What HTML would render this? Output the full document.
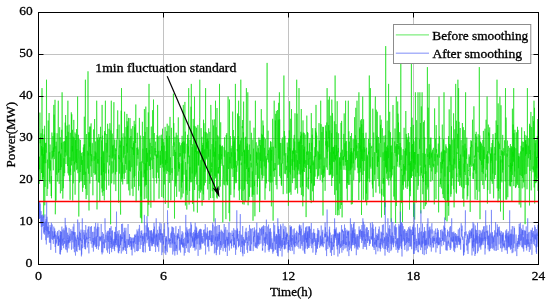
<!DOCTYPE html>
<html><head><meta charset="utf-8"><style>
html,body{margin:0;padding:0;background:#fff;overflow:hidden;}
svg{display:block;}
text{font-family:"Liberation Serif", "DejaVu Serif", serif;font-size:12px;fill:#000;stroke:#000;stroke-width:0.3px;}
text.d{font-size:13.4px;stroke-width:0.3px;}
</style></head><body>
<svg width="550" height="304" viewBox="0 0 550 304">
<rect width="550" height="304" fill="#fff"/>
<g stroke="#c2c2c2" stroke-width="1"><line x1="163.5" y1="12.5" x2="163.5" y2="264.5"/><line x1="288.5" y1="12.5" x2="288.5" y2="264.5"/><line x1="413.5" y1="12.5" x2="413.5" y2="264.5"/><line x1="38.5" y1="222.5" x2="538.5" y2="222.5"/><line x1="38.5" y1="180.5" x2="538.5" y2="180.5"/><line x1="38.5" y1="138.5" x2="538.5" y2="138.5"/><line x1="38.5" y1="96.5" x2="538.5" y2="96.5"/><line x1="38.5" y1="54.5" x2="538.5" y2="54.5"/></g>
<polyline points="38.5,102.6 38.7,171.5 38.8,164.7 39.0,165.9 39.2,183.9 39.4,160.9 39.5,156.7 39.7,169.2 39.9,112.6 40.1,127.5 40.2,143.3 40.4,137.0 40.6,153.0 40.8,180.3 40.9,136.0 41.1,133.3 41.3,148.0 41.5,173.0 41.6,146.0 41.8,155.2 42.0,88.1 42.1,155.7 42.3,149.0 42.5,179.9 42.7,128.9 42.8,179.0 43.0,147.3 43.2,177.0 43.4,154.2 43.5,163.7 43.7,217.5 43.9,139.0 44.1,163.4 44.2,134.4 44.4,159.1 44.6,125.8 44.8,205.3 44.9,150.0 45.1,186.9 45.3,150.6 45.4,143.1 45.6,148.1 45.8,163.2 46.0,142.7 46.1,144.5 46.3,152.7 46.5,79.7 46.7,149.7 46.8,151.0 47.0,196.0 47.2,178.0 47.4,162.6 47.5,159.6 47.7,188.8 47.9,167.3 48.1,142.4 48.2,120.5 48.4,137.4 48.6,147.1 48.7,165.1 48.9,168.5 49.1,113.0 49.3,178.7 49.4,181.6 49.6,154.5 49.8,152.3 50.0,183.7 50.1,144.5 50.3,159.2 50.5,170.5 50.7,160.3 50.8,171.1 51.0,175.1 51.2,196.0 51.4,176.1 51.5,198.3 51.7,153.5 51.9,132.5 52.0,159.3 52.2,150.8 52.4,157.6 52.6,155.0 52.7,154.1 52.9,136.1 53.1,159.7 53.3,170.3 53.4,147.5 53.6,156.6 53.8,104.9 54.0,151.9 54.1,114.6 54.3,159.1 54.5,152.4 54.7,132.9 54.8,148.8 55.0,99.8 55.2,158.3 55.3,214.3 55.5,202.4 55.7,167.8 55.9,146.2 56.0,200.6 56.2,141.7 56.4,165.9 56.6,170.4 56.7,174.7 56.9,143.6 57.1,133.2 57.3,148.0 57.4,179.1 57.6,181.5 57.8,178.9 58.0,154.8 58.1,133.6 58.3,100.7 58.5,172.7 58.6,151.8 58.8,172.2 59.0,169.1 59.2,183.9 59.3,151.2 59.5,153.3 59.7,127.2 59.9,169.8 60.0,161.2 60.2,137.3 60.4,193.3 60.6,154.5 60.7,169.9 60.9,153.4 61.1,159.2 61.3,167.2 61.4,142.8 61.6,149.2 61.8,129.8 61.9,191.0 62.1,92.3 62.3,143.1 62.5,144.3 62.6,155.7 62.8,198.6 63.0,187.5 63.2,141.9 63.3,188.3 63.5,179.2 63.7,178.0 63.9,158.2 64.0,176.2 64.2,141.0 64.4,157.8 64.6,163.7 64.7,173.1 64.9,141.5 65.1,156.7 65.2,122.6 65.4,152.3 65.6,115.0 65.8,145.4 65.9,164.0 66.1,143.2 66.3,136.0 66.5,137.0 66.6,140.9 66.8,155.6 67.0,125.6 67.2,150.0 67.3,157.1 67.5,166.0 67.7,134.3 67.9,100.7 68.0,173.3 68.2,131.8 68.4,144.1 68.5,162.4 68.7,175.4 68.9,162.2 69.1,124.6 69.2,163.9 69.4,166.3 69.6,179.1 69.8,181.3 69.9,157.3 70.1,199.8 70.3,132.8 70.5,171.6 70.6,168.6 70.8,175.1 71.0,149.4 71.2,145.3 71.3,112.3 71.5,165.4 71.7,126.8 71.8,114.3 72.0,160.9 72.2,145.9 72.4,151.4 72.5,129.8 72.7,200.5 72.9,162.4 73.1,136.7 73.2,183.4 73.4,182.7 73.6,151.7 73.8,119.9 73.9,160.8 74.1,137.8 74.3,159.3 74.4,171.6 74.6,161.6 74.8,164.3 75.0,132.5 75.1,194.7 75.3,153.5 75.5,140.1 75.7,162.2 75.8,158.7 76.0,133.9 76.2,157.8 76.4,163.0 76.5,129.1 76.7,170.2 76.9,149.0 77.1,161.8 77.2,169.1 77.4,160.3 77.6,96.5 77.7,144.7 77.9,173.2 78.1,159.5 78.3,158.5 78.4,134.8 78.6,164.1 78.8,216.5 79.0,150.5 79.1,139.0 79.3,149.5 79.5,182.6 79.7,174.1 79.8,172.4 80.0,150.6 80.2,172.0 80.4,139.9 80.5,160.0 80.7,179.7 80.9,181.4 81.0,180.2 81.2,168.5 81.4,152.8 81.6,164.9 81.7,156.2 81.9,164.1 82.1,180.8 82.3,160.0 82.4,185.8 82.6,191.8 82.8,152.2 83.0,181.2 83.1,187.7 83.3,147.5 83.5,153.6 83.7,175.0 83.8,144.6 84.0,156.1 84.2,143.3 84.3,116.7 84.5,185.0 84.7,144.1 84.9,174.5 85.0,154.5 85.2,114.2 85.4,79.7 85.6,188.9 85.7,171.7 85.9,177.3 86.1,199.1 86.3,178.4 86.4,140.2 86.6,134.0 86.8,173.5 87.0,178.3 87.1,195.1 87.3,150.8 87.5,160.8 87.6,168.5 87.8,135.4 88.0,71.3 88.2,155.5 88.3,152.6 88.5,173.7 88.7,132.4 88.9,192.0 89.0,210.5 89.2,132.4 89.4,146.7 89.6,126.6 89.7,174.2 89.9,183.5 90.1,142.4 90.3,155.6 90.4,132.1 90.6,126.6 90.8,166.3 90.9,127.2 91.1,123.4 91.3,176.9 91.5,168.9 91.6,154.2 91.8,161.2 92.0,154.6 92.2,150.3 92.3,143.2 92.5,157.7 92.7,163.4 92.9,195.3 93.0,163.8 93.2,142.2 93.4,141.9 93.6,129.4 93.7,150.1 93.9,173.0 94.1,156.3 94.2,160.8 94.4,146.9 94.6,119.0 94.8,165.8 94.9,174.8 95.1,151.4 95.3,152.8 95.5,174.2 95.6,141.5 95.8,159.3 96.0,152.6 96.2,155.7 96.3,180.5 96.5,164.7 96.7,100.7 96.9,132.1 97.0,209.4 97.2,171.6 97.4,168.2 97.5,137.6 97.7,163.2 97.9,159.1 98.1,163.8 98.2,139.7 98.4,182.3 98.6,177.7 98.8,134.0 98.9,147.3 99.1,168.1 99.3,182.8 99.5,137.5 99.6,175.9 99.8,201.6 100.0,176.7 100.2,156.2 100.3,150.1 100.5,126.8 100.7,138.1 100.8,136.9 101.0,143.4 101.2,175.4 101.4,156.7 101.5,174.9 101.7,140.4 101.9,188.5 102.1,104.9 102.2,192.4 102.4,144.4 102.6,135.6 102.8,153.5 102.9,195.9 103.1,151.9 103.3,150.9 103.5,172.0 103.6,152.2 103.8,191.0 104.0,163.7 104.1,163.2 104.3,200.3 104.5,131.1 104.7,165.1 104.8,180.1 105.0,133.1 105.2,135.1 105.4,100.7 105.5,150.7 105.7,162.1 105.9,173.4 106.1,142.9 106.2,151.3 106.4,189.8 106.6,155.2 106.8,134.0 106.9,135.1 107.1,152.5 107.3,139.5 107.4,162.3 107.6,123.8 107.8,136.8 108.0,141.0 108.1,164.3 108.3,170.2 108.5,173.4 108.7,169.6 108.8,185.5 109.0,128.8 109.2,156.8 109.4,155.6 109.5,165.4 109.7,162.2 109.9,123.2 110.1,131.6 110.2,145.0 110.4,146.4 110.6,224.3 110.7,182.9 110.9,130.4 111.1,158.4 111.3,100.7 111.4,149.1 111.6,183.3 111.8,180.3 112.0,161.3 112.1,173.6 112.3,133.6 112.5,158.4 112.7,145.8 112.8,148.9 113.0,156.7 113.2,144.8 113.4,172.5 113.5,134.5 113.7,127.5 113.9,102.2 114.0,184.4 114.2,161.0 114.4,156.4 114.6,139.6 114.7,148.8 114.9,159.7 115.1,154.1 115.3,157.6 115.4,174.4 115.6,148.3 115.8,191.1 116.0,149.6 116.1,151.1 116.3,139.7 116.5,147.0 116.7,171.8 116.8,163.7 117.0,152.3 117.2,129.0 117.3,138.6 117.5,133.5 117.7,110.4 117.9,141.7 118.0,145.7 118.2,147.2 118.4,150.8 118.6,202.6 118.7,155.2 118.9,158.8 119.1,124.6 119.3,159.4 119.4,157.6 119.6,173.6 119.8,139.8 120.0,147.7 120.1,144.8 120.3,200.9 120.5,208.1 120.6,214.6 120.8,141.2 121.0,162.3 121.2,110.7 121.3,179.3 121.5,88.1 121.7,149.5 121.9,181.7 122.0,137.4 122.2,177.9 122.4,162.5 122.6,168.7 122.7,184.4 122.9,173.0 123.1,133.3 123.3,147.2 123.4,157.7 123.6,145.9 123.8,156.4 123.9,173.7 124.1,165.1 124.3,179.1 124.5,145.7 124.6,111.7 124.8,154.3 125.0,136.6 125.2,172.8 125.3,155.4 125.5,162.5 125.7,163.9 125.9,134.1 126.0,127.1 126.2,136.6 126.4,146.2 126.6,143.6 126.7,169.8 126.9,113.9 127.1,184.2 127.2,121.3 127.4,152.7 127.6,125.8 127.8,134.4 127.9,139.5 128.1,169.4 128.3,183.6 128.5,117.9 128.6,187.2 128.8,190.4 129.0,167.8 129.2,160.4 129.3,170.9 129.5,153.3 129.7,137.9 129.9,195.4 130.0,118.1 130.2,153.4 130.4,158.4 130.5,171.5 130.7,160.6 130.9,136.1 131.1,148.3 131.2,128.7 131.4,131.9 131.6,150.0 131.8,167.2 131.9,147.3 132.1,188.7 132.3,152.8 132.5,147.5 132.6,149.4 132.8,126.1 133.0,196.1 133.2,170.6 133.3,163.2 133.5,143.1 133.7,154.9 133.8,141.2 134.0,177.6 134.2,120.8 134.4,138.0 134.5,186.8 134.7,127.3 134.9,176.1 135.1,154.9 135.2,124.3 135.4,135.4 135.6,143.0 135.8,104.5 135.9,124.7 136.1,202.1 136.3,180.7 136.5,175.7 136.6,167.0 136.8,147.8 137.0,165.7 137.1,149.5 137.3,132.8 137.5,151.7 137.7,154.9 137.8,147.4 138.0,158.8 138.2,149.4 138.4,169.9 138.5,190.4 138.7,171.4 138.9,184.9 139.1,186.2 139.2,154.2 139.4,117.9 139.6,170.7 139.8,168.4 139.9,162.9 140.1,162.1 140.3,193.8 140.4,217.7 140.6,135.6 140.8,156.9 141.0,196.5 141.1,171.3 141.3,218.5 141.5,168.3 141.7,161.4 141.8,223.1 142.0,162.0 142.2,142.6 142.4,121.8 142.5,137.9 142.7,162.7 142.9,148.7 143.1,158.8 143.2,177.3 143.4,159.0 143.6,136.2 143.7,137.3 143.9,163.7 144.1,162.8 144.3,199.2 144.4,109.1 144.6,173.5 144.8,169.7 145.0,186.6 145.1,131.9 145.3,185.3 145.5,163.5 145.7,180.9 145.8,106.6 146.0,180.9 146.2,198.5 146.3,148.3 146.5,184.9 146.7,148.0 146.9,170.4 147.0,127.0 147.2,137.8 147.4,161.8 147.6,152.8 147.7,189.5 147.9,216.2 148.1,176.2 148.3,112.4 148.4,146.1 148.6,202.7 148.8,204.8 149.0,83.9 149.1,166.2 149.3,150.1 149.5,165.8 149.6,158.8 149.8,139.0 150.0,154.2 150.2,142.8 150.3,170.0 150.5,157.4 150.7,190.7 150.9,207.7 151.0,157.5 151.2,126.8 151.4,126.6 151.6,148.5 151.7,160.3 151.9,146.0 152.1,148.7 152.3,169.0 152.4,149.3 152.6,110.2 152.8,153.8 152.9,174.4 153.1,178.1 153.3,178.2 153.5,99.5 153.6,158.6 153.8,157.9 154.0,200.8 154.2,155.5 154.3,133.0 154.5,143.9 154.7,153.1 154.9,155.2 155.0,148.1 155.2,156.2 155.4,145.4 155.6,141.6 155.7,152.3 155.9,151.0 156.1,178.0 156.2,154.7 156.4,157.5 156.6,183.4 156.8,154.6 156.9,158.3 157.1,135.1 157.3,172.5 157.5,163.1 157.6,104.9 157.8,157.7 158.0,151.5 158.2,136.4 158.3,143.8 158.5,178.2 158.7,151.4 158.9,150.8 159.0,198.7 159.2,185.4 159.4,180.5 159.5,180.8 159.7,156.0 159.9,135.5 160.1,168.0 160.2,155.3 160.4,165.1 160.6,150.8 160.8,164.8 160.9,164.5 161.1,162.5 161.3,134.7 161.5,151.0 161.6,145.9 161.8,196.9 162.0,138.5 162.2,149.8 162.3,163.7 162.5,128.7 162.7,167.5 162.8,161.6 163.0,138.7 163.2,175.7 163.4,198.2 163.5,180.1 163.7,142.2 163.9,171.6 164.1,155.7 164.2,145.6 164.4,184.5 164.6,153.0 164.8,149.8 164.9,148.0 165.1,126.9 165.3,203.9 165.5,159.8 165.6,164.8 165.8,151.2 166.0,159.0 166.1,170.5 166.3,162.9 166.5,135.7 166.7,173.8 166.8,131.2 167.0,163.1 167.2,123.7 167.4,135.0 167.5,171.2 167.7,138.5 167.9,142.2 168.1,156.4 168.2,208.0 168.4,177.9 168.6,148.8 168.8,125.7 168.9,172.0 169.1,153.9 169.3,136.4 169.4,135.9 169.6,183.0 169.8,148.2 170.0,116.9 170.1,175.0 170.3,165.9 170.5,157.4 170.7,174.7 170.8,200.4 171.0,194.8 171.2,149.9 171.4,127.8 171.5,143.2 171.7,143.2 171.9,172.9 172.1,168.1 172.2,180.2 172.4,176.2 172.6,170.8 172.7,156.7 172.9,151.3 173.1,145.8 173.3,156.1 173.4,93.6 173.6,145.3 173.8,123.1 174.0,146.7 174.1,142.3 174.3,162.5 174.5,218.6 174.7,149.8 174.8,168.9 175.0,136.8 175.2,146.3 175.4,156.5 175.5,186.4 175.7,152.0 175.9,183.5 176.0,148.9 176.2,132.7 176.4,143.5 176.6,196.8 176.7,195.2 176.9,150.6 177.1,135.3 177.3,143.2 177.4,158.6 177.6,158.3 177.8,175.6 178.0,168.8 178.1,152.9 178.3,117.4 178.5,168.3 178.7,138.9 178.8,171.6 179.0,162.0 179.2,191.6 179.3,163.7 179.5,169.0 179.7,142.4 179.9,157.0 180.0,153.0 180.2,156.0 180.4,152.5 180.6,145.3 180.7,162.4 180.9,199.4 181.1,174.5 181.3,163.4 181.4,187.6 181.6,143.3 181.8,147.1 182.0,197.4 182.1,135.8 182.3,182.4 182.5,141.8 182.6,179.8 182.8,160.7 183.0,164.8 183.2,193.5 183.3,104.9 183.5,145.6 183.7,153.4 183.9,141.2 184.0,174.7 184.2,142.5 184.4,158.6 184.6,157.1 184.7,145.8 184.9,101.9 185.1,153.5 185.3,131.6 185.4,205.5 185.6,162.1 185.8,167.8 185.9,173.0 186.1,190.4 186.3,169.8 186.5,189.8 186.6,176.9 186.8,209.5 187.0,143.8 187.2,194.9 187.3,182.4 187.5,134.8 187.7,159.9 187.9,163.7 188.0,138.4 188.2,153.4 188.4,146.3 188.6,157.2 188.7,88.1 188.9,153.7 189.1,204.6 189.2,162.2 189.4,155.6 189.6,191.0 189.8,167.2 189.9,179.3 190.1,139.9 190.3,146.0 190.5,170.3 190.6,182.3 190.8,121.1 191.0,106.7 191.2,145.1 191.3,83.9 191.5,155.1 191.7,182.2 191.9,164.5 192.0,147.0 192.2,173.5 192.4,144.2 192.5,203.9 192.7,175.7 192.9,164.8 193.1,145.1 193.2,118.9 193.4,139.4 193.6,203.3 193.8,211.5 193.9,192.3 194.1,125.8 194.3,178.7 194.5,96.5 194.6,190.0 194.8,158.5 195.0,145.6 195.2,176.7 195.3,147.6 195.5,151.9 195.7,126.4 195.8,174.5 196.0,172.9 196.2,138.6 196.4,172.5 196.5,127.8 196.7,184.5 196.9,151.5 197.1,153.7 197.2,151.0 197.4,212.6 197.6,166.9 197.8,151.8 197.9,124.9 198.1,135.9 198.3,164.9 198.5,148.7 198.6,165.6 198.8,151.1 199.0,190.8 199.1,185.1 199.3,198.4 199.5,122.5 199.7,117.5 199.8,79.7 200.0,185.4 200.2,167.4 200.4,185.5 200.5,192.5 200.7,160.2 200.9,189.2 201.1,128.1 201.2,136.5 201.4,140.0 201.6,189.0 201.8,190.6 201.9,136.7 202.1,205.7 202.3,148.0 202.4,161.4 202.6,145.0 202.8,153.4 203.0,142.9 203.1,177.8 203.3,194.4 203.5,119.7 203.7,200.1 203.8,162.2 204.0,123.2 204.2,151.8 204.4,185.4 204.5,181.7 204.7,149.4 204.9,171.7 205.1,131.8 205.2,176.1 205.4,182.8 205.6,88.1 205.7,128.2 205.9,150.2 206.1,158.0 206.3,132.4 206.4,159.4 206.6,142.3 206.8,147.7 207.0,139.0 207.1,148.9 207.3,133.4 207.5,139.6 207.7,189.4 207.8,138.6 208.0,170.2 208.2,140.8 208.4,149.5 208.5,156.7 208.7,128.3 208.9,165.6 209.0,200.1 209.2,171.1 209.4,184.0 209.6,151.4 209.7,133.6 209.9,131.9 210.1,181.1 210.3,149.4 210.4,163.2 210.6,198.1 210.8,104.9 211.0,117.5 211.1,176.2 211.3,168.4 211.5,172.3 211.7,162.5 211.8,167.0 212.0,144.1 212.2,187.4 212.3,191.2 212.5,172.8 212.7,119.7 212.9,171.4 213.0,198.1 213.2,138.8 213.4,156.7 213.6,125.5 213.7,158.6 213.9,221.6 214.1,200.7 214.3,119.4 214.4,189.3 214.6,151.7 214.8,155.6 215.0,175.9 215.1,147.3 215.3,156.6 215.5,100.7 215.6,178.4 215.8,141.2 216.0,177.2 216.2,127.2 216.3,163.3 216.5,167.9 216.7,197.5 216.9,169.7 217.0,108.0 217.2,198.6 217.4,162.5 217.6,135.4 217.7,135.3 217.9,172.8 218.1,170.5 218.2,173.8 218.4,167.2 218.6,172.9 218.8,136.5 218.9,159.8 219.1,154.0 219.3,190.2 219.5,83.9 219.6,168.1 219.8,144.7 220.0,179.6 220.2,144.8 220.3,186.6 220.5,155.4 220.7,122.3 220.9,163.7 221.0,146.7 221.2,151.4 221.4,159.3 221.5,154.5 221.7,155.8 221.9,146.1 222.1,165.8 222.2,155.0 222.4,145.6 222.6,169.1 222.8,222.3 222.9,184.2 223.1,178.0 223.3,177.8 223.5,174.7 223.6,165.3 223.8,184.6 224.0,147.2 224.2,154.9 224.3,156.8 224.5,137.4 224.7,185.3 224.8,166.6 225.0,165.0 225.2,150.3 225.4,161.8 225.5,180.5 225.7,183.1 225.9,219.2 226.1,151.0 226.2,134.9 226.4,177.3 226.6,181.5 226.8,133.1 226.9,158.6 227.1,184.7 227.3,153.3 227.5,173.9 227.6,185.3 227.8,151.9 228.0,153.3 228.1,96.5 228.3,152.4 228.5,168.9 228.7,166.2 228.8,152.2 229.0,213.1 229.2,208.6 229.4,202.8 229.5,99.5 229.7,221.4 229.9,157.1 230.1,163.4 230.2,140.2 230.4,136.1 230.6,161.2 230.8,194.9 230.9,151.6 231.1,148.3 231.3,168.2 231.4,152.3 231.6,152.8 231.8,156.7 232.0,145.8 232.1,169.2 232.3,154.5 232.5,147.3 232.7,111.6 232.8,161.8 233.0,177.0 233.2,134.1 233.4,130.0 233.5,158.3 233.7,168.0 233.9,141.4 234.1,197.4 234.2,136.3 234.4,189.4 234.6,165.8 234.7,138.3 234.9,180.6 235.1,152.4 235.3,167.3 235.4,83.9 235.6,167.0 235.8,183.3 236.0,165.2 236.1,160.9 236.3,182.8 236.5,168.7 236.7,165.5 236.8,171.9 237.0,168.3 237.2,149.0 237.4,151.3 237.5,113.5 237.7,165.5 237.9,154.9 238.0,152.7 238.2,136.0 238.4,160.7 238.6,100.7 238.7,153.7 238.9,190.6 239.1,116.1 239.3,150.5 239.4,200.1 239.6,144.5 239.8,189.2 240.0,165.8 240.1,152.0 240.3,140.4 240.5,141.1 240.7,160.6 240.8,79.7 241.0,149.5 241.2,165.2 241.3,162.6 241.5,200.0 241.7,137.8 241.9,156.1 242.0,135.9 242.2,126.1 242.4,128.2 242.6,120.0 242.7,204.2 242.9,152.2 243.1,190.8 243.3,132.3 243.4,152.2 243.6,101.6 243.8,150.9 244.0,156.8 244.1,204.6 244.3,150.6 244.5,189.4 244.6,149.7 244.8,163.6 245.0,144.5 245.2,137.6 245.3,141.4 245.5,171.7 245.7,201.6 245.9,136.7 246.0,181.4 246.2,119.3 246.4,88.1 246.6,169.1 246.7,156.5 246.9,146.1 247.1,166.8 247.3,143.6 247.4,184.0 247.6,154.2 247.8,92.3 247.9,161.0 248.1,205.3 248.3,149.9 248.5,171.9 248.6,168.0 248.8,200.4 249.0,167.5 249.2,177.6 249.3,144.5 249.5,196.8 249.7,169.5 249.9,163.2 250.0,120.7 250.2,146.2 250.4,160.7 250.6,154.3 250.7,170.8 250.9,187.4 251.1,162.8 251.2,167.4 251.4,132.8 251.6,154.6 251.8,165.7 251.9,171.3 252.1,196.9 252.3,171.4 252.5,179.5 252.6,194.6 252.8,139.5 253.0,220.7 253.2,192.6 253.3,153.1 253.5,149.0 253.7,148.6 253.9,194.8 254.0,127.7 254.2,156.8 254.4,177.5 254.5,186.1 254.7,181.2 254.9,216.3 255.1,188.9 255.2,173.0 255.4,100.7 255.6,157.8 255.8,167.7 255.9,174.9 256.1,143.3 256.3,142.3 256.5,163.0 256.6,151.7 256.8,165.7 257.0,152.7 257.2,194.5 257.3,162.9 257.5,186.8 257.7,151.3 257.8,145.6 258.0,159.6 258.2,148.1 258.4,151.2 258.5,178.6 258.7,161.6 258.9,137.6 259.1,145.9 259.2,140.0 259.4,140.0 259.6,212.1 259.8,152.6 259.9,200.7 260.1,154.3 260.3,139.6 260.5,160.9 260.6,145.3 260.8,154.2 261.0,168.2 261.1,146.3 261.3,109.1 261.5,169.9 261.7,174.8 261.8,133.8 262.0,180.4 262.2,140.9 262.4,134.9 262.5,172.9 262.7,178.2 262.9,120.5 263.1,146.6 263.2,161.5 263.4,125.5 263.6,146.7 263.8,155.8 263.9,175.8 264.1,137.3 264.3,166.4 264.4,158.2 264.6,147.9 264.8,157.1 265.0,199.8 265.1,168.0 265.3,139.0 265.5,141.0 265.7,188.3 265.8,156.2 266.0,161.2 266.2,168.4 266.4,158.6 266.5,183.4 266.7,154.7 266.9,135.2 267.1,62.9 267.2,139.1 267.4,159.7 267.6,153.8 267.7,155.2 267.9,147.3 268.1,130.7 268.3,159.9 268.4,162.4 268.6,150.1 268.8,153.3 269.0,181.8 269.1,172.1 269.3,147.5 269.5,160.4 269.7,191.2 269.8,188.1 270.0,182.5 270.2,148.4 270.4,182.6 270.5,141.3 270.7,176.4 270.9,159.9 271.0,141.8 271.2,143.5 271.4,206.3 271.6,149.9 271.7,160.7 271.9,146.7 272.1,182.4 272.3,152.5 272.4,147.0 272.6,118.8 272.8,139.0 273.0,155.2 273.1,220.7 273.3,146.7 273.5,171.2 273.7,160.0 273.8,155.3 274.0,155.2 274.2,100.7 274.3,176.8 274.5,168.5 274.7,170.1 274.9,168.1 275.0,163.0 275.2,170.1 275.4,120.5 275.6,148.1 275.7,113.8 275.9,174.4 276.1,185.1 276.3,110.9 276.4,111.3 276.6,126.3 276.8,146.1 277.0,189.3 277.1,153.6 277.3,145.0 277.5,137.5 277.6,110.0 277.8,146.0 278.0,165.1 278.2,136.0 278.3,119.7 278.5,158.5 278.7,102.8 278.9,146.7 279.0,164.4 279.2,146.2 279.4,92.3 279.6,176.2 279.7,119.3 279.9,159.5 280.1,143.1 280.3,150.6 280.4,161.4 280.6,167.8 280.8,178.2 280.9,142.9 281.1,163.8 281.3,184.5 281.5,163.4 281.6,185.9 281.8,173.1 282.0,139.1 282.2,143.0 282.3,163.6 282.5,151.9 282.7,137.4 282.9,137.5 283.0,142.1 283.2,194.2 283.4,161.6 283.6,157.2 283.7,142.2 283.9,75.5 284.1,153.4 284.2,155.5 284.4,131.1 284.6,159.9 284.8,173.6 284.9,135.8 285.1,146.7 285.3,174.2 285.5,171.0 285.6,157.5 285.8,153.1 286.0,160.6 286.2,169.3 286.3,170.2 286.5,169.4 286.7,165.9 286.9,193.6 287.0,179.9 287.2,142.6 287.4,162.5 287.5,155.5 287.7,177.9 287.9,147.3 288.1,149.6 288.2,177.8 288.4,205.8 288.6,138.1 288.8,146.2 288.9,158.6 289.1,192.9 289.3,130.4 289.5,150.7 289.6,101.2 289.8,172.3 290.0,138.0 290.1,191.9 290.3,148.4 290.5,174.4 290.7,118.8 290.8,143.1 291.0,194.8 291.2,173.2 291.4,154.7 291.5,109.1 291.7,133.7 291.9,165.8 292.1,159.7 292.2,159.1 292.4,183.1 292.6,150.6 292.8,169.9 292.9,150.9 293.1,178.4 293.3,138.8 293.4,153.7 293.6,148.3 293.8,155.9 294.0,161.8 294.1,139.6 294.3,134.9 294.5,170.3 294.7,141.5 294.8,178.2 295.0,113.3 295.2,189.8 295.4,185.6 295.5,169.3 295.7,150.3 295.9,153.5 296.1,167.2 296.2,154.5 296.4,188.2 296.6,188.1 296.7,79.7 296.9,153.2 297.1,113.7 297.3,174.6 297.4,160.1 297.6,193.5 297.8,165.6 298.0,139.2 298.1,169.1 298.3,141.8 298.5,148.0 298.7,163.1 298.8,170.6 299.0,88.1 299.2,174.3 299.4,160.3 299.5,141.6 299.7,163.9 299.9,139.4 300.0,139.7 300.2,158.3 300.4,187.5 300.6,135.7 300.7,174.6 300.9,131.8 301.1,143.7 301.3,109.0 301.4,195.1 301.6,133.8 301.8,133.5 302.0,172.5 302.1,145.1 302.3,175.2 302.5,186.4 302.7,169.6 302.8,206.3 303.0,120.4 303.2,196.4 303.3,132.5 303.5,171.3 303.7,149.3 303.9,151.2 304.0,166.9 304.2,132.9 304.4,172.0 304.6,146.7 304.7,163.7 304.9,156.7 305.1,134.6 305.3,145.7 305.4,154.6 305.6,168.0 305.8,160.1 306.0,198.2 306.1,217.1 306.3,155.0 306.5,151.6 306.6,187.0 306.8,115.6 307.0,149.2 307.2,154.9 307.3,150.7 307.5,132.0 307.7,164.9 307.9,132.9 308.0,188.5 308.2,177.5 308.4,189.3 308.6,151.4 308.7,179.0 308.9,169.0 309.1,158.6 309.3,168.9 309.4,143.1 309.6,150.0 309.8,159.1 309.9,141.6 310.1,138.2 310.3,200.0 310.5,165.6 310.6,173.0 310.8,152.0 311.0,160.6 311.2,203.1 311.3,113.1 311.5,183.4 311.7,142.8 311.9,150.4 312.0,139.4 312.2,134.7 312.4,138.9 312.6,191.3 312.7,128.2 312.9,165.2 313.1,164.0 313.2,160.5 313.4,201.7 313.6,162.4 313.8,162.9 313.9,186.1 314.1,177.3 314.3,155.9 314.5,185.4 314.6,173.8 314.8,147.2 315.0,176.7 315.2,176.1 315.3,128.1 315.5,157.1 315.7,130.7 315.9,156.1 316.0,104.9 316.2,169.2 316.4,132.6 316.5,147.0 316.7,135.5 316.9,135.7 317.1,169.7 317.2,171.0 317.4,179.1 317.6,170.2 317.8,150.8 317.9,151.4 318.1,176.4 318.3,152.1 318.5,160.0 318.6,162.5 318.8,175.6 319.0,123.1 319.2,159.8 319.3,140.5 319.5,146.8 319.7,168.5 319.8,154.2 320.0,169.9 320.2,180.1 320.4,169.2 320.5,165.4 320.7,100.7 320.9,159.3 321.1,124.2 321.2,128.3 321.4,174.8 321.6,153.5 321.8,140.6 321.9,132.1 322.1,157.7 322.3,182.4 322.5,167.9 322.6,126.8 322.8,156.6 323.0,215.5 323.1,169.4 323.3,177.9 323.5,126.9 323.7,165.7 323.8,173.3 324.0,165.6 324.2,176.7 324.4,169.9 324.5,170.2 324.7,157.7 324.9,157.6 325.1,190.8 325.2,175.0 325.4,125.4 325.6,133.6 325.8,145.5 325.9,141.2 326.1,159.6 326.3,167.3 326.4,131.4 326.6,149.3 326.8,122.5 327.0,158.3 327.1,88.1 327.3,169.8 327.5,141.3 327.7,151.8 327.8,151.3 328.0,149.7 328.2,99.7 328.4,138.4 328.5,134.8 328.7,125.1 328.9,147.3 329.1,137.2 329.2,175.1 329.4,96.5 329.6,164.9 329.7,130.5 329.9,175.2 330.1,152.2 330.3,162.4 330.4,174.1 330.6,167.2 330.8,115.7 331.0,174.6 331.1,170.4 331.3,145.7 331.5,133.2 331.7,186.0 331.8,99.6 332.0,169.6 332.2,147.5 332.4,178.0 332.5,113.1 332.7,123.7 332.9,158.5 333.0,176.3 333.2,146.9 333.4,153.7 333.6,151.6 333.7,161.6 333.9,146.9 334.1,162.1 334.3,144.1 334.4,121.3 334.6,194.8 334.8,145.1 335.0,159.0 335.1,75.5 335.3,135.8 335.5,160.4 335.7,155.3 335.8,215.0 336.0,124.1 336.2,144.8 336.3,190.3 336.5,145.2 336.7,156.1 336.9,132.2 337.0,174.8 337.2,101.2 337.4,161.9 337.6,215.4 337.7,151.3 337.9,151.5 338.1,210.3 338.3,147.9 338.4,152.3 338.6,133.3 338.8,150.6 339.0,215.1 339.1,173.8 339.3,170.4 339.5,157.8 339.6,183.5 339.8,157.1 340.0,165.6 340.2,161.7 340.3,208.8 340.5,196.5 340.7,152.6 340.9,169.6 341.0,122.9 341.2,200.0 341.4,205.0 341.6,120.9 341.7,126.4 341.9,149.5 342.1,217.4 342.3,170.7 342.4,149.7 342.6,157.2 342.8,160.1 342.9,157.2 343.1,162.9 343.3,165.7 343.5,156.0 343.6,159.8 343.8,133.9 344.0,169.8 344.2,113.4 344.3,151.4 344.5,156.5 344.7,152.9 344.9,143.2 345.0,159.5 345.2,165.6 345.4,132.8 345.6,100.7 345.7,162.0 345.9,141.5 346.1,170.2 346.2,140.9 346.4,152.7 346.6,188.6 346.8,150.9 346.9,162.0 347.1,178.7 347.3,200.5 347.5,160.0 347.6,183.2 347.8,181.6 348.0,165.4 348.2,135.0 348.3,100.7 348.5,184.9 348.7,159.1 348.9,131.3 349.0,170.7 349.2,149.6 349.4,141.6 349.5,161.5 349.7,184.8 349.9,182.3 350.1,154.6 350.2,174.6 350.4,136.0 350.6,170.3 350.8,152.1 350.9,169.2 351.1,148.0 351.3,204.5 351.5,133.1 351.6,163.5 351.8,151.1 352.0,167.6 352.2,152.6 352.3,204.1 352.5,197.8 352.7,180.1 352.8,169.4 353.0,139.2 353.2,156.5 353.4,163.4 353.5,148.2 353.7,180.2 353.9,170.7 354.1,139.1 354.2,151.3 354.4,139.1 354.6,117.2 354.8,155.3 354.9,170.3 355.1,155.3 355.3,135.1 355.5,159.7 355.6,159.3 355.8,107.8 356.0,151.9 356.1,155.6 356.3,139.4 356.5,158.2 356.7,145.2 356.8,148.4 357.0,100.7 357.2,145.4 357.4,167.6 357.5,152.2 357.7,152.1 357.9,151.0 358.1,173.2 358.2,143.0 358.4,162.8 358.6,177.3 358.8,200.0 358.9,92.3 359.1,122.3 359.3,158.1 359.4,182.5 359.6,128.6 359.8,148.7 360.0,127.2 360.1,172.3 360.3,145.5 360.5,168.3 360.7,120.4 360.8,151.5 361.0,138.8 361.2,181.4 361.4,119.0 361.5,215.0 361.7,124.3 361.9,158.9 362.0,149.4 362.2,155.7 362.4,161.1 362.6,125.0 362.7,96.5 362.9,174.9 363.1,133.0 363.3,199.7 363.4,169.1 363.6,119.3 363.8,167.2 364.0,170.9 364.1,147.1 364.3,152.1 364.5,138.3 364.7,160.9 364.8,148.8 365.0,154.7 365.2,161.3 365.3,165.6 365.5,201.1 365.7,148.0 365.9,139.6 366.0,132.7 366.2,171.8 366.4,193.5 366.6,147.7 366.7,205.3 366.9,156.9 367.1,156.3 367.3,154.8 367.4,181.3 367.6,156.3 367.8,199.8 368.0,182.5 368.1,172.3 368.3,147.4 368.5,139.0 368.6,154.3 368.8,151.5 369.0,178.6 369.2,143.7 369.3,75.5 369.5,155.1 369.7,182.2 369.9,143.1 370.0,156.0 370.2,166.8 370.4,88.1 370.6,122.5 370.7,163.4 370.9,168.6 371.1,166.3 371.3,146.9 371.4,147.4 371.6,147.8 371.8,145.8 371.9,149.7 372.1,162.4 372.3,184.6 372.5,157.1 372.6,188.5 372.8,108.7 373.0,161.6 373.2,197.1 373.3,151.2 373.5,142.5 373.7,132.5 373.9,141.6 374.0,162.1 374.2,180.7 374.4,178.9 374.6,152.2 374.7,174.6 374.9,172.2 375.1,163.7 375.2,103.9 375.4,96.5 375.6,151.4 375.8,156.9 375.9,192.6 376.1,161.2 376.3,109.7 376.5,152.8 376.6,138.1 376.8,152.5 377.0,135.7 377.2,166.5 377.3,111.7 377.5,166.8 377.7,156.3 377.9,179.0 378.0,166.9 378.2,149.5 378.4,161.8 378.5,137.0 378.7,151.4 378.9,186.3 379.1,149.4 379.2,143.2 379.4,166.5 379.6,184.2 379.8,193.5 379.9,143.1 380.1,115.3 380.3,143.0 380.5,131.0 380.6,124.8 380.8,157.2 381.0,145.0 381.2,119.7 381.3,148.1 381.5,217.5 381.7,188.9 381.8,195.3 382.0,160.6 382.2,134.4 382.4,128.2 382.5,162.1 382.7,162.9 382.9,183.7 383.1,152.3 383.2,161.6 383.4,196.6 383.6,178.0 383.8,183.8 383.9,135.8 384.1,160.8 384.3,142.4 384.5,214.9 384.6,168.0 384.8,161.1 385.0,150.8 385.1,207.2 385.3,135.1 385.5,166.9 385.7,46.1 385.8,123.3 386.0,143.2 386.2,168.2 386.4,146.8 386.5,173.5 386.7,151.1 386.9,178.8 387.1,120.7 387.2,120.7 387.4,171.6 387.6,145.5 387.8,180.1 387.9,148.2 388.1,149.8 388.3,153.8 388.4,158.2 388.6,83.9 388.8,185.4 389.0,130.5 389.1,178.1 389.3,163.1 389.5,152.2 389.7,111.8 389.8,162.6 390.0,171.8 390.2,171.4 390.4,162.2 390.5,132.2 390.7,180.4 390.9,146.0 391.1,221.9 391.2,145.4 391.4,165.8 391.6,177.4 391.7,155.7 391.9,152.2 392.1,175.3 392.3,137.9 392.4,163.0 392.6,169.2 392.8,165.9 393.0,105.0 393.1,151.6 393.3,152.6 393.5,153.6 393.7,174.0 393.8,196.5 394.0,187.5 394.2,165.9 394.4,199.8 394.5,175.9 394.7,141.4 394.9,153.0 395.0,128.5 395.2,171.4 395.4,204.8 395.6,223.1 395.7,170.3 395.9,146.3 396.1,156.3 396.3,96.5 396.4,206.0 396.6,169.6 396.8,144.1 397.0,150.5 397.1,166.5 397.3,144.0 397.5,161.7 397.7,101.5 397.8,143.0 398.0,113.7 398.2,119.2 398.3,149.2 398.5,122.5 398.7,154.5 398.9,146.1 399.0,155.3 399.2,167.3 399.4,159.8 399.6,156.6 399.7,132.2 399.9,165.2 400.1,143.0 400.3,222.9 400.4,183.2 400.6,135.9 400.8,58.7 401.0,159.9 401.1,147.4 401.3,169.4 401.5,203.1 401.6,169.2 401.8,170.6 402.0,155.3 402.2,157.0 402.3,167.7 402.5,222.1 402.7,174.9 402.9,185.1 403.0,170.2 403.2,149.1 403.4,189.6 403.6,164.2 403.7,173.0 403.9,175.5 404.1,127.8 404.3,155.7 404.4,181.4 404.6,166.1 404.8,174.3 404.9,150.8 405.1,169.4 405.3,160.9 405.5,148.4 405.6,187.6 405.8,111.0 406.0,170.7 406.2,150.2 406.3,133.9 406.5,155.3 406.7,155.5 406.9,137.1 407.0,151.6 407.2,189.0 407.4,139.4 407.6,159.6 407.7,167.4 407.9,186.5 408.1,164.6 408.2,164.8 408.4,133.0 408.6,181.2 408.8,146.9 408.9,136.5 409.1,165.3 409.3,142.2 409.5,209.7 409.6,153.1 409.8,151.9 410.0,191.1 410.2,162.9 410.3,196.2 410.5,171.3 410.7,161.1 410.9,177.2 411.0,127.0 411.2,177.7 411.4,58.7 411.5,177.8 411.7,144.9 411.9,158.9 412.1,117.7 412.2,156.9 412.4,171.4 412.6,144.0 412.8,173.8 412.9,176.0 413.1,170.7 413.3,124.9 413.5,216.8 413.6,139.4 413.8,162.8 414.0,141.4 414.2,157.0 414.3,169.2 414.5,152.1 414.7,219.6 414.8,158.8 415.0,152.0 415.2,164.6 415.4,92.3 415.5,126.2 415.7,176.7 415.9,137.3 416.1,141.8 416.2,202.5 416.4,154.6 416.6,120.2 416.8,123.4 416.9,138.7 417.1,159.3 417.3,172.8 417.5,154.0 417.6,161.1 417.8,189.8 418.0,92.3 418.1,155.2 418.3,185.7 418.5,184.3 418.7,153.9 418.8,167.6 419.0,176.2 419.2,164.9 419.4,139.3 419.5,139.8 419.7,148.8 419.9,92.3 420.1,165.6 420.2,133.4 420.4,123.0 420.6,150.5 420.8,213.4 420.9,167.3 421.1,175.6 421.3,106.4 421.4,168.8 421.6,173.2 421.8,158.8 422.0,125.0 422.1,92.3 422.3,153.6 422.5,178.0 422.7,175.6 422.8,194.2 423.0,153.0 423.2,159.6 423.4,181.9 423.5,122.1 423.7,163.2 423.9,209.1 424.1,157.1 424.2,126.4 424.4,120.4 424.6,167.3 424.7,137.3 424.9,174.1 425.1,170.1 425.3,153.8 425.4,206.1 425.6,164.7 425.8,185.2 426.0,171.2 426.1,189.5 426.3,204.3 426.5,196.0 426.7,178.6 426.8,148.6 427.0,166.0 427.2,189.5 427.4,67.1 427.5,135.6 427.7,157.0 427.9,154.2 428.0,187.4 428.2,107.7 428.4,135.3 428.6,143.4 428.7,201.6 428.9,133.9 429.1,83.9 429.3,165.1 429.4,152.4 429.6,159.0 429.8,144.4 430.0,154.6 430.1,167.7 430.3,137.8 430.5,144.2 430.7,144.4 430.8,181.7 431.0,137.6 431.2,155.9 431.3,157.5 431.5,153.3 431.7,171.4 431.9,166.0 432.0,151.6 432.2,172.2 432.4,180.1 432.6,149.7 432.7,157.7 432.9,162.3 433.1,165.9 433.3,151.1 433.4,147.8 433.6,167.2 433.8,163.8 433.9,166.0 434.1,185.2 434.3,204.4 434.5,166.8 434.6,108.4 434.8,161.2 435.0,153.6 435.2,158.9 435.3,174.0 435.5,138.6 435.7,152.5 435.9,164.6 436.0,199.2 436.2,125.1 436.4,152.8 436.6,149.2 436.7,149.9 436.9,172.4 437.1,154.9 437.2,153.8 437.4,157.2 437.6,155.2 437.8,165.5 437.9,159.1 438.1,152.0 438.3,143.6 438.5,152.5 438.6,212.4 438.8,171.8 439.0,96.5 439.2,145.6 439.3,157.7 439.5,136.3 439.7,138.7 439.9,147.7 440.0,186.9 440.2,184.2 440.4,178.5 440.5,184.2 440.7,162.0 440.9,167.7 441.1,173.2 441.2,152.5 441.4,188.4 441.6,170.8 441.8,160.8 441.9,151.5 442.1,168.5 442.3,124.6 442.5,164.1 442.6,159.4 442.8,194.2 443.0,168.0 443.2,149.4 443.3,198.0 443.5,139.3 443.7,161.5 443.8,151.3 444.0,92.3 444.2,137.0 444.4,199.5 444.5,184.3 444.7,150.2 444.9,176.6 445.1,150.8 445.2,182.9 445.4,220.1 445.6,145.9 445.8,145.5 445.9,144.3 446.1,153.2 446.3,146.6 446.5,156.0 446.6,166.8 446.8,190.9 447.0,221.4 447.1,189.1 447.3,166.4 447.5,201.8 447.7,155.1 447.8,148.3 448.0,194.0 448.2,184.3 448.4,206.0 448.5,136.2 448.7,215.7 448.9,205.3 449.1,149.2 449.2,109.4 449.4,161.4 449.6,144.0 449.8,172.1 449.9,146.0 450.1,165.2 450.3,148.6 450.4,144.6 450.6,181.7 450.8,196.7 451.0,96.5 451.1,194.1 451.3,161.9 451.5,126.3 451.7,180.2 451.8,185.7 452.0,164.7 452.2,167.8 452.4,178.3 452.5,154.9 452.7,139.5 452.9,163.6 453.1,167.3 453.2,170.2 453.4,155.4 453.6,113.3 453.7,189.2 453.9,158.6 454.1,207.4 454.3,155.7 454.4,138.5 454.6,164.3 454.8,129.3 455.0,165.7 455.1,168.4 455.3,165.3 455.5,161.1 455.7,83.9 455.8,148.0 456.0,150.2 456.2,192.5 456.4,120.7 456.5,193.6 456.7,173.3 456.9,177.0 457.0,152.3 457.2,153.9 457.4,148.9 457.6,133.8 457.7,148.4 457.9,79.7 458.1,156.8 458.3,181.8 458.4,169.8 458.6,88.1 458.8,168.8 459.0,121.8 459.1,159.8 459.3,158.9 459.5,185.8 459.7,161.0 459.8,175.1 460.0,139.4 460.2,128.0 460.3,177.6 460.5,154.5 460.7,180.0 460.9,185.6 461.0,144.7 461.2,140.2 461.4,157.5 461.6,187.2 461.7,156.6 461.9,152.1 462.1,146.9 462.3,143.6 462.4,123.0 462.6,144.4 462.8,198.7 463.0,145.5 463.1,156.7 463.3,127.2 463.5,148.1 463.6,169.2 463.8,206.6 464.0,163.6 464.2,188.3 464.3,130.1 464.5,171.9 464.7,150.6 464.9,163.7 465.0,143.7 465.2,175.0 465.4,162.0 465.6,92.3 465.7,161.2 465.9,162.8 466.1,184.9 466.3,165.6 466.4,148.4 466.6,158.9 466.8,137.6 466.9,155.9 467.1,199.6 467.3,196.5 467.5,180.8 467.6,163.8 467.8,196.2 468.0,177.7 468.2,185.4 468.3,170.2 468.5,170.9 468.7,157.9 468.9,157.9 469.0,154.4 469.2,163.3 469.4,167.1 469.6,158.2 469.7,156.7 469.9,176.1 470.1,167.6 470.2,211.9 470.4,147.1 470.6,164.7 470.8,143.1 470.9,140.2 471.1,166.7 471.3,155.9 471.5,141.1 471.6,147.3 471.8,144.5 472.0,147.6 472.2,166.1 472.3,144.9 472.5,119.7 472.7,144.4 472.9,150.6 473.0,178.8 473.2,172.5 473.4,179.1 473.5,163.5 473.7,171.5 473.9,106.3 474.1,141.5 474.2,157.6 474.4,155.6 474.6,170.1 474.8,159.1 474.9,182.9 475.1,199.5 475.3,157.3 475.5,134.0 475.6,156.6 475.8,142.8 476.0,173.7 476.2,131.8 476.3,173.3 476.5,189.8 476.7,137.1 476.8,136.6 477.0,161.8 477.2,200.0 477.4,190.9 477.5,169.8 477.7,149.1 477.9,146.6 478.1,152.1 478.2,134.2 478.4,150.7 478.6,153.6 478.8,158.8 478.9,166.8 479.1,191.6 479.3,67.1 479.5,137.7 479.6,159.4 479.8,135.5 480.0,219.2 480.1,186.3 480.3,141.6 480.5,160.8 480.7,142.2 480.8,154.2 481.0,155.7 481.2,180.7 481.4,153.4 481.5,143.5 481.7,164.9 481.9,160.2 482.1,172.1 482.2,145.7 482.4,154.2 482.6,170.3 482.8,185.1 482.9,140.0 483.1,171.1 483.3,173.7 483.4,130.9 483.6,168.4 483.8,149.8 484.0,189.0 484.1,150.4 484.3,146.9 484.5,155.6 484.7,159.1 484.8,156.3 485.0,128.7 485.2,154.0 485.4,163.4 485.5,180.4 485.7,173.7 485.9,177.3 486.1,119.7 486.2,160.7 486.4,169.7 486.6,154.5 486.7,158.7 486.9,163.2 487.1,96.5 487.3,167.3 487.4,203.6 487.6,151.2 487.8,190.1 488.0,156.4 488.1,163.4 488.3,124.6 488.5,135.6 488.7,132.3 488.8,152.9 489.0,133.4 489.2,154.3 489.4,150.8 489.5,142.9 489.7,127.4 489.9,171.6 490.0,193.8 490.2,175.4 490.4,153.8 490.6,179.7 490.7,153.5 490.9,162.8 491.1,147.1 491.3,160.7 491.4,148.5 491.6,149.4 491.8,181.3 492.0,143.0 492.1,149.5 492.3,183.8 492.5,169.2 492.7,140.0 492.8,173.6 493.0,134.1 493.2,165.2 493.3,178.7 493.5,198.3 493.7,197.4 493.9,175.9 494.0,170.5 494.2,153.5 494.4,168.9 494.6,178.9 494.7,147.1 494.9,147.1 495.1,154.9 495.3,132.9 495.4,175.0 495.6,153.1 495.8,138.0 496.0,160.6 496.1,120.5 496.3,138.9 496.5,138.2 496.6,139.2 496.8,138.5 497.0,79.7 497.2,188.4 497.3,162.6 497.5,137.0 497.7,125.0 497.9,151.9 498.0,202.2 498.2,103.4 498.4,191.0 498.6,141.5 498.7,150.9 498.9,160.6 499.1,198.6 499.3,160.4 499.4,143.6 499.6,147.3 499.8,149.1 499.9,96.5 500.1,188.9 500.3,155.8 500.5,211.5 500.6,159.7 500.8,181.0 501.0,105.3 501.2,155.2 501.3,150.3 501.5,153.1 501.7,160.5 501.9,182.4 502.0,159.6 502.2,162.6 502.4,151.1 502.6,172.5 502.7,134.9 502.9,168.7 503.1,169.9 503.2,152.1 503.4,220.0 503.6,151.2 503.8,148.2 503.9,151.8 504.1,151.4 504.3,155.5 504.5,145.1 504.6,140.3 504.8,150.8 505.0,156.7 505.2,181.4 505.3,122.7 505.5,88.1 505.7,180.7 505.8,199.6 506.0,117.5 506.2,119.4 506.4,141.7 506.5,152.5 506.7,199.6 506.9,153.7 507.1,154.2 507.2,156.8 507.4,140.5 507.6,166.7 507.8,197.2 507.9,150.7 508.1,151.1 508.3,147.2 508.5,145.9 508.6,156.3 508.8,166.7 509.0,165.3 509.1,165.6 509.3,185.6 509.5,158.6 509.7,147.8 509.8,162.3 510.0,183.0 510.2,186.6 510.4,144.0 510.5,186.0 510.7,162.9 510.9,171.6 511.1,148.3 511.2,168.7 511.4,146.2 511.6,182.0 511.8,164.4 511.9,201.5 512.1,147.1 512.3,174.9 512.4,108.7 512.6,166.1 512.8,151.9 513.0,156.7 513.1,124.5 513.3,148.3 513.5,161.7 513.7,88.1 513.8,186.1 514.0,133.2 514.2,154.2 514.4,176.8 514.5,147.1 514.7,171.4 514.9,129.8 515.1,139.9 515.2,177.0 515.4,187.3 515.6,185.8 515.7,188.1 515.9,148.2 516.1,156.6 516.3,186.5 516.4,132.3 516.6,145.9 516.8,151.9 517.0,183.6 517.1,157.1 517.3,144.4 517.5,126.8 517.7,185.0 517.8,156.2 518.0,129.9 518.2,152.2 518.4,168.2 518.5,156.0 518.7,182.3 518.9,188.0 519.0,153.3 519.2,204.5 519.4,191.9 519.6,169.6 519.7,156.5 519.9,162.3 520.1,175.0 520.3,154.3 520.4,154.3 520.6,151.5 520.8,207.5 521.0,181.5 521.1,145.8 521.3,176.0 521.5,146.7 521.7,127.4 521.8,141.4 522.0,169.2 522.2,188.4 522.3,141.5 522.5,177.8 522.7,162.9 522.9,147.7 523.0,151.1 523.2,147.3 523.4,182.4 523.6,141.9 523.7,146.5 523.9,166.0 524.1,187.4 524.3,157.1 524.4,131.2 524.6,134.6 524.8,174.5 525.0,134.9 525.1,224.2 525.3,162.4 525.5,140.6 525.6,155.7 525.8,139.9 526.0,160.0 526.2,173.9 526.3,144.3 526.5,149.3 526.7,154.1 526.9,135.7 527.0,189.3 527.2,156.8 527.4,88.1 527.6,159.2 527.7,162.1 527.9,166.8 528.1,159.1 528.3,145.7 528.4,156.6 528.6,158.2 528.8,138.2 528.9,155.3 529.1,157.8 529.3,167.6 529.5,205.5 529.6,123.8 529.8,154.0 530.0,125.7 530.2,170.9 530.3,150.1 530.5,159.8 530.7,149.1 530.9,111.9 531.0,148.8 531.2,190.4 531.4,178.3 531.6,170.0 531.7,127.1 531.9,141.9 532.1,165.8 532.2,169.4 532.4,155.4 532.6,154.0 532.8,116.1 532.9,157.6 533.1,172.3 533.3,166.4 533.5,170.3 533.6,121.2 533.8,138.9 534.0,100.7 534.2,187.5 534.3,165.9 534.5,107.8 534.7,203.5 534.9,151.5 535.0,183.3 535.2,143.3 535.4,176.7 535.5,169.8 535.7,140.3 535.9,183.1 536.1,155.7 536.2,139.7 536.4,181.9 536.6,156.8 536.8,168.3 536.9,157.0 537.1,178.6 537.3,136.1 537.5,157.9 537.6,148.7 537.8,119.0 538.0,190.9 538.2,182.6 538.3,160.0 538.5,165.1" fill="none" stroke="#00dc00" stroke-width="0.55"/>
<polyline points="38.5,209.5 38.7,201.5 38.8,218.6 39.0,201.5 39.2,212.9 39.4,219.0 39.5,208.2 39.7,201.5 39.9,215.3 40.1,218.1 40.2,203.6 40.4,215.0 40.6,220.0 40.8,223.1 40.9,223.6 41.1,211.1 41.3,227.1 41.5,215.2 41.6,239.8 41.8,230.2 42.0,228.5 42.1,223.8 42.3,224.3 42.5,214.6 42.7,226.6 42.8,224.5 43.0,216.6 43.2,226.1 43.4,220.7 43.5,215.6 43.7,233.5 43.9,227.2 44.1,227.9 44.2,232.1 44.4,222.5 44.6,234.6 44.8,225.1 44.9,214.4 45.1,230.1 45.3,230.0 45.4,221.5 45.6,228.0 45.8,240.2 46.0,227.1 46.1,219.0 46.3,244.5 46.5,220.4 46.7,201.5 46.8,230.9 47.0,216.7 47.2,220.9 47.4,237.7 47.5,231.7 47.7,226.3 47.9,231.6 48.1,227.0 48.2,234.5 48.4,224.2 48.6,222.4 48.7,237.5 48.9,231.0 49.1,233.9 49.3,231.2 49.4,242.6 49.6,235.1 49.8,235.4 50.0,225.0 50.1,225.5 50.3,242.9 50.5,238.9 50.7,227.3 50.8,249.9 51.0,238.9 51.2,234.5 51.4,222.7 51.5,229.7 51.7,239.0 51.9,238.8 52.0,235.3 52.2,224.5 52.4,239.9 52.6,238.9 52.7,231.2 52.9,236.7 53.1,236.5 53.3,243.9 53.4,235.9 53.6,238.6 53.8,226.6 54.0,230.6 54.1,236.7 54.3,231.9 54.5,238.6 54.7,228.4 54.8,236.8 55.0,230.9 55.2,247.0 55.3,234.5 55.5,249.8 55.7,252.8 55.9,239.9 56.0,244.2 56.2,235.3 56.4,240.9 56.6,242.7 56.7,241.5 56.9,235.4 57.1,232.5 57.3,239.2 57.4,239.2 57.6,231.0 57.8,233.1 58.0,246.0 58.1,237.9 58.3,236.8 58.5,245.7 58.6,235.9 58.8,244.9 59.0,229.9 59.2,236.6 59.3,237.4 59.5,242.2 59.7,238.7 59.9,254.1 60.0,246.4 60.2,235.0 60.4,254.5 60.6,231.0 60.7,251.7 60.9,231.9 61.1,244.5 61.3,231.9 61.4,237.1 61.6,250.0 61.8,228.3 61.9,226.6 62.1,238.4 62.3,240.4 62.5,239.5 62.6,245.7 62.8,229.6 63.0,242.7 63.2,238.4 63.3,244.7 63.5,243.3 63.7,248.2 63.9,228.3 64.0,239.3 64.2,230.4 64.4,238.0 64.6,244.0 64.7,241.1 64.9,242.7 65.1,238.2 65.2,217.9 65.4,240.9 65.6,249.5 65.8,245.0 65.9,225.3 66.1,243.8 66.3,246.8 66.5,235.9 66.6,227.4 66.8,250.2 67.0,240.2 67.2,243.7 67.3,252.5 67.5,232.7 67.7,238.8 67.9,237.9 68.0,244.4 68.2,234.9 68.4,242.8 68.5,239.8 68.7,247.5 68.9,248.4 69.1,227.9 69.2,242.6 69.4,236.3 69.6,238.8 69.8,242.1 69.9,242.7 70.1,233.7 70.3,241.1 70.5,239.9 70.6,238.4 70.8,229.2 71.0,233.2 71.2,235.6 71.3,243.1 71.5,249.7 71.7,231.1 71.8,231.0 72.0,239.8 72.2,234.5 72.4,232.4 72.5,232.0 72.7,231.4 72.9,242.3 73.1,226.6 73.2,248.7 73.4,231.9 73.6,234.8 73.8,231.8 73.9,223.7 74.1,226.9 74.3,247.9 74.4,252.2 74.6,232.2 74.8,246.9 75.0,238.9 75.1,232.1 75.3,251.9 75.5,255.6 75.7,236.7 75.8,238.4 76.0,240.8 76.2,238.5 76.4,245.6 76.5,250.9 76.7,240.1 76.9,246.6 77.1,251.9 77.2,234.8 77.4,239.3 77.6,235.6 77.7,219.5 77.9,244.1 78.1,246.8 78.3,245.9 78.4,237.3 78.6,245.1 78.8,236.0 79.0,236.1 79.1,222.7 79.3,249.9 79.5,231.7 79.7,239.5 79.8,239.0 80.0,250.4 80.2,242.5 80.4,232.9 80.5,239.5 80.7,238.2 80.9,241.1 81.0,229.6 81.2,239.0 81.4,256.4 81.6,244.4 81.7,254.6 81.9,239.6 82.1,243.1 82.3,218.3 82.4,238.5 82.6,248.2 82.8,246.4 83.0,229.8 83.1,237.6 83.3,238.5 83.5,239.3 83.7,238.5 83.8,232.4 84.0,234.4 84.2,237.1 84.3,247.2 84.5,234.8 84.7,244.3 84.9,230.1 85.0,249.0 85.2,240.0 85.4,238.9 85.6,249.4 85.7,225.1 85.9,227.2 86.1,242.6 86.3,232.7 86.4,235.8 86.6,239.4 86.8,236.9 87.0,239.4 87.1,238.2 87.3,247.5 87.5,241.0 87.6,240.3 87.8,229.4 88.0,236.2 88.2,238.9 88.3,226.7 88.5,243.3 88.7,242.0 88.9,253.4 89.0,226.3 89.2,231.2 89.4,231.5 89.6,233.5 89.7,238.0 89.9,237.2 90.1,240.9 90.3,240.5 90.4,238.4 90.6,226.8 90.8,234.4 90.9,239.3 91.1,243.5 91.3,243.9 91.5,226.1 91.6,234.8 91.8,238.3 92.0,241.6 92.2,247.7 92.3,239.4 92.5,231.9 92.7,242.0 92.9,240.7 93.0,240.6 93.2,238.0 93.4,251.6 93.6,240.8 93.7,245.7 93.9,231.8 94.1,245.0 94.2,234.3 94.4,226.7 94.6,241.4 94.8,243.7 94.9,237.3 95.1,238.9 95.3,246.8 95.5,235.2 95.6,222.8 95.8,240.9 96.0,240.5 96.2,247.2 96.3,236.3 96.5,248.8 96.7,247.7 96.9,228.7 97.0,246.1 97.2,230.2 97.4,226.7 97.5,236.8 97.7,234.5 97.9,223.3 98.1,240.4 98.2,243.6 98.4,249.7 98.6,238.5 98.8,227.1 98.9,231.2 99.1,246.4 99.3,245.7 99.5,242.9 99.6,236.5 99.8,240.5 100.0,237.2 100.2,236.5 100.3,241.3 100.5,239.2 100.7,237.2 100.8,239.5 101.0,234.9 101.2,223.9 101.4,234.2 101.5,238.4 101.7,252.3 101.9,235.8 102.1,254.4 102.2,250.1 102.4,232.1 102.6,233.2 102.8,240.1 102.9,252.5 103.1,241.8 103.3,244.3 103.5,233.8 103.6,237.4 103.8,237.1 104.0,245.1 104.1,248.2 104.3,239.3 104.5,240.3 104.7,248.1 104.8,238.0 105.0,218.3 105.2,230.0 105.4,230.4 105.5,230.2 105.7,242.7 105.9,234.8 106.1,239.9 106.2,242.0 106.4,241.6 106.6,249.3 106.8,250.4 106.9,232.5 107.1,240.4 107.3,237.2 107.4,230.9 107.6,252.7 107.8,245.1 108.0,237.5 108.1,235.8 108.3,241.9 108.5,230.7 108.7,237.2 108.8,248.6 109.0,246.3 109.2,232.5 109.4,235.2 109.5,254.0 109.7,228.1 109.9,234.1 110.1,228.2 110.2,241.9 110.4,241.2 110.6,247.9 110.7,235.7 110.9,240.3 111.1,226.2 111.3,244.0 111.4,237.6 111.6,252.2 111.8,241.9 112.0,231.0 112.1,248.9 112.3,230.3 112.5,236.2 112.7,247.2 112.8,242.9 113.0,242.5 113.2,239.3 113.4,243.2 113.5,245.5 113.7,241.3 113.9,247.1 114.0,249.2 114.2,239.3 114.4,231.8 114.6,251.1 114.7,238.9 114.9,244.1 115.1,246.7 115.3,232.1 115.4,243.0 115.6,226.9 115.8,245.1 116.0,235.8 116.1,240.7 116.3,244.9 116.5,211.6 116.7,240.1 116.8,234.1 117.0,239.3 117.2,247.5 117.3,239.7 117.5,238.5 117.7,231.2 117.9,246.1 118.0,239.2 118.2,252.6 118.4,233.7 118.6,247.5 118.7,253.3 118.9,239.4 119.1,230.1 119.3,251.0 119.4,247.6 119.6,244.8 119.8,247.9 120.0,235.9 120.1,245.3 120.3,244.6 120.5,234.2 120.6,244.9 120.8,235.4 121.0,246.6 121.2,248.6 121.3,253.5 121.5,224.0 121.7,241.4 121.9,236.9 122.0,239.1 122.2,237.6 122.4,238.5 122.6,223.7 122.7,247.2 122.9,251.3 123.1,247.0 123.3,249.5 123.4,232.9 123.6,232.3 123.8,246.6 123.9,250.0 124.1,241.7 124.3,227.8 124.5,242.9 124.6,234.7 124.8,247.5 125.0,230.6 125.2,247.5 125.3,241.2 125.5,250.9 125.7,246.7 125.9,227.8 126.0,232.3 126.2,242.1 126.4,245.8 126.6,254.0 126.7,242.0 126.9,239.1 127.1,239.6 127.2,239.6 127.4,247.8 127.6,239.4 127.8,239.2 127.9,228.6 128.1,224.0 128.3,240.0 128.5,245.0 128.6,239.4 128.8,243.7 129.0,244.8 129.2,239.3 129.3,247.2 129.5,234.0 129.7,239.7 129.9,236.9 130.0,240.3 130.2,244.7 130.4,246.4 130.5,240.8 130.7,243.3 130.9,237.0 131.1,238.9 131.2,249.8 131.4,238.3 131.6,249.6 131.8,243.8 131.9,241.2 132.1,255.4 132.3,238.1 132.5,237.7 132.6,240.1 132.8,242.3 133.0,241.9 133.2,246.7 133.3,241.0 133.5,243.3 133.7,238.1 133.8,248.5 134.0,237.0 134.2,237.7 134.4,240.0 134.5,242.4 134.7,234.5 134.9,252.2 135.1,235.2 135.2,236.9 135.4,236.6 135.6,235.8 135.8,244.1 135.9,241.0 136.1,233.8 136.3,235.4 136.5,237.2 136.6,251.0 136.8,234.6 137.0,229.5 137.1,230.8 137.3,237.0 137.5,251.3 137.7,231.4 137.8,240.1 138.0,244.8 138.2,235.9 138.4,250.8 138.5,249.2 138.7,243.9 138.9,228.7 139.1,241.8 139.2,236.7 139.4,224.9 139.6,226.2 139.8,239.7 139.9,240.8 140.1,248.9 140.3,244.4 140.4,235.5 140.6,235.7 140.8,238.0 141.0,230.9 141.1,245.0 141.3,239.3 141.5,233.0 141.7,234.2 141.8,230.3 142.0,235.7 142.2,241.3 142.4,236.0 142.5,246.9 142.7,252.0 142.9,234.2 143.1,239.3 143.2,236.4 143.4,252.4 143.6,241.8 143.7,243.7 143.9,245.8 144.1,232.9 144.3,241.6 144.4,214.9 144.6,235.8 144.8,243.7 145.0,239.0 145.1,232.8 145.3,252.4 145.5,239.9 145.7,234.5 145.8,233.4 146.0,225.3 146.2,229.8 146.3,236.4 146.5,236.5 146.7,232.6 146.9,243.2 147.0,216.2 147.2,231.6 147.4,223.3 147.6,240.2 147.7,239.3 147.9,237.3 148.1,228.2 148.3,239.1 148.4,227.2 148.6,246.6 148.8,240.4 149.0,240.5 149.1,232.6 149.3,230.5 149.5,250.9 149.6,246.2 149.8,236.2 150.0,244.1 150.2,251.0 150.3,230.6 150.5,234.9 150.7,234.9 150.9,242.7 151.0,230.7 151.2,240.8 151.4,230.1 151.6,246.2 151.7,245.7 151.9,237.2 152.1,244.5 152.3,233.5 152.4,236.8 152.6,246.2 152.8,238.3 152.9,241.7 153.1,231.6 153.3,243.9 153.5,242.4 153.6,229.2 153.8,243.8 154.0,222.9 154.2,238.4 154.3,237.1 154.5,226.6 154.7,239.9 154.9,246.7 155.0,237.9 155.2,235.3 155.4,245.5 155.6,252.0 155.7,250.3 155.9,233.6 156.1,244.9 156.2,218.3 156.4,237.2 156.6,233.9 156.8,241.6 156.9,234.9 157.1,246.0 157.3,241.8 157.5,247.1 157.6,229.8 157.8,239.1 158.0,244.8 158.2,241.7 158.3,240.6 158.5,233.3 158.7,251.6 158.9,247.2 159.0,241.9 159.2,226.5 159.4,231.3 159.5,239.8 159.7,233.2 159.9,222.5 160.1,240.7 160.2,241.8 160.4,229.2 160.6,234.9 160.8,233.5 160.9,242.9 161.1,223.5 161.3,225.2 161.5,234.4 161.6,233.4 161.8,255.1 162.0,233.8 162.2,240.4 162.3,235.4 162.5,233.4 162.7,241.6 162.8,252.4 163.0,235.9 163.2,244.8 163.4,241.5 163.5,243.7 163.7,241.6 163.9,239.6 164.1,229.2 164.2,236.9 164.4,230.0 164.6,223.1 164.8,238.7 164.9,253.3 165.1,246.0 165.3,248.5 165.5,242.9 165.6,238.2 165.8,254.9 166.0,236.1 166.1,250.9 166.3,236.5 166.5,239.8 166.7,241.4 166.8,239.5 167.0,243.2 167.2,243.8 167.4,252.3 167.5,210.3 167.7,224.2 167.9,223.1 168.1,228.3 168.2,233.2 168.4,244.3 168.6,227.4 168.8,239.3 168.9,239.4 169.1,241.2 169.3,238.1 169.4,242.4 169.6,239.5 169.8,247.5 170.0,241.9 170.1,244.4 170.3,239.4 170.5,240.8 170.7,234.6 170.8,233.2 171.0,247.8 171.2,240.5 171.4,231.6 171.5,236.7 171.7,237.9 171.9,226.5 172.1,244.3 172.2,238.2 172.4,243.0 172.6,227.0 172.7,254.5 172.9,244.2 173.1,243.1 173.3,233.6 173.4,234.0 173.6,227.7 173.8,251.4 174.0,232.9 174.1,241.2 174.3,244.2 174.5,234.6 174.7,246.2 174.8,255.5 175.0,241.8 175.2,250.8 175.4,244.1 175.5,235.9 175.7,236.4 175.9,226.2 176.0,240.5 176.2,251.1 176.4,244.9 176.6,246.2 176.7,248.6 176.9,235.4 177.1,244.0 177.3,254.7 177.4,233.3 177.6,239.8 177.8,236.0 178.0,238.0 178.1,233.8 178.3,238.6 178.5,229.0 178.7,235.5 178.8,235.8 179.0,235.6 179.2,250.5 179.3,240.2 179.5,240.9 179.7,237.2 179.9,249.7 180.0,225.8 180.2,238.0 180.4,248.5 180.6,252.5 180.7,241.1 180.9,239.6 181.1,244.6 181.3,238.1 181.4,244.0 181.6,234.5 181.8,244.7 182.0,239.2 182.1,231.1 182.3,233.4 182.5,246.9 182.6,242.6 182.8,245.6 183.0,232.6 183.2,248.0 183.3,242.7 183.5,239.1 183.7,246.7 183.9,246.5 184.0,242.7 184.2,255.6 184.4,250.4 184.6,242.2 184.7,237.7 184.9,240.4 185.1,253.0 185.3,242.6 185.4,232.5 185.6,234.4 185.8,214.9 185.9,246.0 186.1,233.8 186.3,243.5 186.5,248.2 186.6,245.3 186.8,227.3 187.0,237.1 187.2,229.6 187.3,242.7 187.5,231.4 187.7,243.7 187.9,240.1 188.0,252.0 188.2,232.8 188.4,242.9 188.6,239.6 188.7,236.3 188.9,229.2 189.1,242.8 189.2,252.8 189.4,241.1 189.6,238.8 189.8,238.0 189.9,228.4 190.1,236.4 190.3,232.4 190.5,247.7 190.6,232.0 190.8,222.2 191.0,232.7 191.2,236.9 191.3,237.7 191.5,224.6 191.7,246.3 191.9,239.8 192.0,235.2 192.2,232.9 192.4,242.4 192.5,236.4 192.7,241.1 192.9,237.9 193.1,239.9 193.2,248.0 193.4,239.0 193.6,231.9 193.8,246.6 193.9,240.8 194.1,233.6 194.3,247.4 194.5,237.4 194.6,247.3 194.8,229.8 195.0,250.7 195.2,222.7 195.3,240.6 195.5,233.0 195.7,237.9 195.8,238.1 196.0,226.5 196.2,249.4 196.4,230.5 196.5,239.3 196.7,227.6 196.9,237.4 197.1,244.2 197.2,236.7 197.4,233.0 197.6,238.6 197.8,235.0 197.9,243.0 198.1,255.9 198.3,231.7 198.5,233.3 198.6,237.7 198.8,238.3 199.0,230.6 199.1,242.5 199.3,244.5 199.5,240.4 199.7,229.4 199.8,249.9 200.0,229.4 200.2,244.0 200.4,247.7 200.5,228.8 200.7,239.7 200.9,249.3 201.1,241.7 201.2,231.5 201.4,229.4 201.6,242.3 201.8,235.6 201.9,233.2 202.1,244.0 202.3,236.0 202.4,239.1 202.6,243.2 202.8,242.8 203.0,238.3 203.1,238.6 203.3,243.4 203.5,242.3 203.7,230.0 203.8,237.2 204.0,231.8 204.2,229.3 204.4,234.2 204.5,236.4 204.7,245.5 204.9,232.4 205.1,241.4 205.2,224.1 205.4,225.3 205.6,254.5 205.7,246.6 205.9,233.6 206.1,232.6 206.3,233.0 206.4,239.4 206.6,235.2 206.8,233.7 207.0,239.5 207.1,230.7 207.3,227.4 207.5,233.8 207.7,247.1 207.8,231.2 208.0,240.7 208.2,246.0 208.4,235.9 208.5,246.2 208.7,246.2 208.9,251.4 209.0,239.1 209.2,234.9 209.4,230.7 209.6,240.0 209.7,230.5 209.9,238.7 210.1,239.6 210.3,234.3 210.4,230.4 210.6,241.6 210.8,240.8 211.0,240.2 211.1,238.2 211.3,246.1 211.5,230.7 211.7,242.1 211.8,235.2 212.0,245.5 212.2,236.0 212.3,235.8 212.5,242.2 212.7,222.8 212.9,235.9 213.0,224.7 213.2,231.2 213.4,244.2 213.6,241.9 213.7,235.4 213.9,238.4 214.1,238.5 214.3,241.2 214.4,253.3 214.6,240.7 214.8,226.5 215.0,235.9 215.1,244.7 215.3,218.3 215.5,240.6 215.6,236.7 215.8,250.3 216.0,252.8 216.2,247.4 216.3,255.2 216.5,246.6 216.7,226.2 216.9,247.3 217.0,233.7 217.2,249.8 217.4,236.5 217.6,241.4 217.7,239.4 217.9,234.3 218.1,224.9 218.2,237.3 218.4,237.9 218.6,246.6 218.8,234.2 218.9,240.8 219.1,232.2 219.3,239.2 219.5,225.0 219.6,254.7 219.8,241.2 220.0,231.8 220.2,241.7 220.3,245.2 220.5,241.0 220.7,249.9 220.9,237.9 221.0,231.6 221.2,229.7 221.4,247.7 221.5,245.8 221.7,242.1 221.9,230.9 222.1,245.4 222.2,244.4 222.4,231.8 222.6,232.0 222.8,241.9 222.9,247.8 223.1,251.2 223.3,244.5 223.5,240.6 223.6,232.9 223.8,243.9 224.0,235.0 224.2,224.0 224.3,229.5 224.5,248.1 224.7,231.9 224.8,229.6 225.0,244.8 225.2,246.5 225.4,239.8 225.5,251.7 225.7,227.1 225.9,236.0 226.1,247.7 226.2,241.0 226.4,240.7 226.6,237.6 226.8,236.7 226.9,240.6 227.1,229.8 227.3,256.0 227.5,238.9 227.6,244.6 227.8,237.8 228.0,237.1 228.1,246.2 228.3,244.0 228.5,232.6 228.7,236.1 228.8,244.3 229.0,222.6 229.2,246.0 229.4,250.6 229.5,236.5 229.7,232.4 229.9,232.6 230.1,237.1 230.2,240.5 230.4,243.2 230.6,240.6 230.8,243.3 230.9,232.9 231.1,242.1 231.3,242.4 231.4,248.5 231.6,239.3 231.8,246.0 232.0,240.3 232.1,230.6 232.3,236.0 232.5,234.9 232.7,236.0 232.8,238.4 233.0,239.9 233.2,241.3 233.4,232.8 233.5,247.5 233.7,228.2 233.9,238.6 234.1,244.9 234.2,242.8 234.4,244.3 234.6,237.6 234.7,244.6 234.9,229.8 235.1,245.1 235.3,247.8 235.4,244.7 235.6,254.9 235.8,239.2 236.0,230.4 236.1,233.7 236.3,249.6 236.5,245.0 236.7,224.7 236.8,210.3 237.0,238.8 237.2,230.5 237.4,241.1 237.5,228.5 237.7,237.8 237.9,236.0 238.0,234.0 238.2,243.8 238.4,247.3 238.6,238.5 238.7,246.4 238.9,239.4 239.1,238.1 239.3,230.9 239.4,245.7 239.6,239.9 239.8,240.2 240.0,235.4 240.1,230.5 240.3,214.1 240.5,245.4 240.7,252.0 240.8,246.3 241.0,234.6 241.2,238.5 241.3,247.0 241.5,241.9 241.7,238.6 241.9,234.9 242.0,243.6 242.2,240.9 242.4,253.4 242.6,248.1 242.7,226.0 242.9,256.3 243.1,241.6 243.3,237.1 243.4,241.9 243.6,245.3 243.8,239.4 244.0,238.9 244.1,239.5 244.3,253.9 244.5,240.1 244.6,245.7 244.8,243.3 245.0,237.1 245.2,233.8 245.3,231.7 245.5,242.8 245.7,231.5 245.9,229.5 246.0,229.8 246.2,227.8 246.4,240.0 246.6,240.3 246.7,232.3 246.9,249.8 247.1,237.2 247.3,243.1 247.4,241.8 247.6,252.8 247.8,246.0 247.9,239.0 248.1,231.8 248.3,231.0 248.5,239.5 248.6,240.4 248.8,245.5 249.0,235.7 249.2,240.9 249.3,234.0 249.5,224.9 249.7,239.1 249.9,250.8 250.0,245.7 250.2,250.5 250.4,248.4 250.6,228.5 250.7,237.1 250.9,251.0 251.1,233.7 251.2,228.8 251.4,241.8 251.6,244.3 251.8,241.6 251.9,236.6 252.1,233.8 252.3,229.4 252.5,229.2 252.6,229.4 252.8,228.0 253.0,233.6 253.2,251.1 253.3,239.9 253.5,236.4 253.7,241.9 253.9,231.6 254.0,241.8 254.2,246.3 254.4,227.4 254.5,233.6 254.7,237.1 254.9,231.5 255.1,230.4 255.2,236.2 255.4,247.8 255.6,244.3 255.8,242.5 255.9,246.7 256.1,237.3 256.3,229.4 256.5,242.7 256.6,247.9 256.8,222.7 257.0,242.5 257.2,248.7 257.3,237.0 257.5,235.5 257.7,244.5 257.8,232.6 258.0,242.8 258.2,246.2 258.4,237.5 258.5,232.7 258.7,243.9 258.9,236.2 259.1,239.6 259.2,241.8 259.4,244.5 259.6,227.8 259.8,239.3 259.9,239.9 260.1,233.1 260.3,231.7 260.5,228.8 260.6,236.3 260.8,243.7 261.0,243.2 261.1,234.8 261.3,234.2 261.5,227.7 261.7,235.5 261.8,230.4 262.0,226.8 262.2,237.6 262.4,250.7 262.5,248.3 262.7,250.4 262.9,226.2 263.1,245.6 263.2,229.0 263.4,234.2 263.6,225.2 263.8,230.9 263.9,239.7 264.1,240.5 264.3,238.2 264.4,237.5 264.6,243.1 264.8,239.1 265.0,226.0 265.1,252.5 265.3,236.8 265.5,246.1 265.7,237.4 265.8,232.2 266.0,239.3 266.2,232.7 266.4,219.6 266.5,230.0 266.7,243.7 266.9,233.9 267.1,237.4 267.2,237.6 267.4,244.9 267.6,237.1 267.7,226.5 267.9,236.6 268.1,236.8 268.3,250.2 268.4,227.5 268.6,224.5 268.8,238.7 269.0,240.6 269.1,251.8 269.3,231.8 269.5,249.6 269.7,233.2 269.8,228.8 270.0,234.6 270.2,246.7 270.4,228.2 270.5,248.7 270.7,240.6 270.9,236.7 271.0,231.8 271.2,235.6 271.4,235.8 271.6,245.0 271.7,249.2 271.9,238.4 272.1,244.5 272.3,249.3 272.4,249.0 272.6,242.8 272.8,253.7 273.0,249.6 273.1,251.9 273.3,237.4 273.5,235.6 273.7,222.9 273.8,250.8 274.0,244.3 274.2,231.6 274.3,240.6 274.5,241.5 274.7,225.2 274.9,241.6 275.0,248.1 275.2,249.4 275.4,236.2 275.6,236.4 275.7,249.8 275.9,246.7 276.1,234.6 276.3,234.3 276.4,244.0 276.6,233.9 276.8,234.3 277.0,253.1 277.1,241.4 277.3,235.6 277.5,243.5 277.6,255.9 277.8,218.3 278.0,232.9 278.2,226.3 278.3,256.4 278.5,229.6 278.7,247.9 278.9,231.2 279.0,229.0 279.2,231.0 279.4,237.7 279.6,248.1 279.7,233.9 279.9,244.6 280.1,236.2 280.3,251.0 280.4,233.2 280.6,224.4 280.8,246.2 280.9,227.2 281.1,226.2 281.3,226.5 281.5,239.0 281.6,248.5 281.8,240.3 282.0,256.5 282.2,252.5 282.3,238.1 282.5,246.8 282.7,240.2 282.9,239.7 283.0,223.5 283.2,228.5 283.4,239.2 283.6,229.2 283.7,245.1 283.9,241.6 284.1,231.6 284.2,248.8 284.4,241.1 284.6,249.4 284.8,237.9 284.9,225.9 285.1,244.9 285.3,237.1 285.5,246.0 285.6,248.1 285.8,248.7 286.0,227.3 286.2,239.3 286.3,235.0 286.5,244.6 286.7,233.3 286.9,241.5 287.0,232.5 287.2,236.6 287.4,236.6 287.5,234.0 287.7,243.5 287.9,242.1 288.1,252.6 288.2,242.4 288.4,250.2 288.6,240.0 288.8,246.5 288.9,238.1 289.1,235.3 289.3,250.2 289.5,245.4 289.6,246.4 289.8,232.9 290.0,225.3 290.1,232.1 290.3,241.7 290.5,227.2 290.7,251.0 290.8,226.9 291.0,244.1 291.2,245.1 291.4,244.1 291.5,226.3 291.7,247.1 291.9,237.5 292.1,240.6 292.2,238.1 292.4,250.7 292.6,244.3 292.8,235.1 292.9,237.1 293.1,229.3 293.3,238.2 293.4,238.3 293.6,244.6 293.8,236.8 294.0,254.2 294.1,248.9 294.3,228.3 294.5,246.4 294.7,234.6 294.8,239.4 295.0,247.2 295.2,241.7 295.4,243.0 295.5,242.8 295.7,232.9 295.9,233.7 296.1,243.5 296.2,246.1 296.4,236.6 296.6,239.7 296.7,230.7 296.9,244.5 297.1,232.2 297.3,239.2 297.4,240.3 297.6,245.7 297.8,246.1 298.0,246.9 298.1,242.0 298.3,242.3 298.5,232.9 298.7,242.1 298.8,240.5 299.0,248.6 299.2,225.8 299.4,234.8 299.5,224.6 299.7,232.5 299.9,227.0 300.0,240.9 300.2,233.2 300.4,231.2 300.6,248.6 300.7,229.5 300.9,225.3 301.1,235.5 301.3,232.8 301.4,228.7 301.6,244.2 301.8,235.5 302.0,246.0 302.1,244.4 302.3,243.9 302.5,240.0 302.7,237.7 302.8,235.2 303.0,250.5 303.2,222.7 303.3,229.4 303.5,232.9 303.7,241.8 303.9,239.6 304.0,234.4 304.2,235.5 304.4,252.6 304.6,232.8 304.7,244.5 304.9,254.0 305.1,230.7 305.3,235.9 305.4,239.8 305.6,227.7 305.8,248.6 306.0,237.5 306.1,226.9 306.3,240.5 306.5,242.3 306.6,237.9 306.8,242.5 307.0,226.2 307.2,246.3 307.3,231.7 307.5,249.1 307.7,233.4 307.9,239.7 308.0,231.0 308.2,238.9 308.4,247.6 308.6,242.5 308.7,226.3 308.9,248.0 309.1,247.6 309.3,227.1 309.4,237.9 309.6,226.2 309.8,236.2 309.9,246.1 310.1,239.4 310.3,228.8 310.5,231.2 310.6,238.9 310.8,238.5 311.0,239.8 311.2,243.6 311.3,223.0 311.5,238.8 311.7,248.2 311.9,242.8 312.0,232.9 312.2,233.6 312.4,240.0 312.6,244.4 312.7,238.7 312.9,252.6 313.1,249.6 313.2,232.3 313.4,242.8 313.6,235.8 313.8,228.9 313.9,233.6 314.1,238.7 314.3,239.2 314.5,233.4 314.6,241.8 314.8,232.9 315.0,235.5 315.2,245.9 315.3,238.3 315.5,240.2 315.7,255.0 315.9,240.3 316.0,241.2 316.2,242.5 316.4,252.4 316.5,241.8 316.7,239.2 316.9,238.0 317.1,248.2 317.2,233.7 317.4,248.9 317.6,240.7 317.8,228.2 317.9,244.6 318.1,243.1 318.3,230.1 318.5,242.0 318.6,241.3 318.8,237.1 319.0,230.3 319.2,232.1 319.3,245.7 319.5,247.1 319.7,247.8 319.8,245.9 320.0,245.8 320.2,236.4 320.4,246.2 320.5,237.9 320.7,235.6 320.9,244.8 321.1,237.8 321.2,225.5 321.4,236.2 321.6,244.1 321.8,239.4 321.9,246.4 322.1,236.7 322.3,231.8 322.5,245.6 322.6,240.6 322.8,229.8 323.0,242.9 323.1,237.3 323.3,247.2 323.5,245.6 323.7,243.1 323.8,243.2 324.0,242.1 324.2,243.1 324.4,243.4 324.5,240.2 324.7,233.6 324.9,237.4 325.1,222.5 325.2,237.2 325.4,227.3 325.6,236.7 325.8,234.0 325.9,250.4 326.1,239.9 326.3,239.4 326.4,240.8 326.6,256.1 326.8,231.9 327.0,242.0 327.1,209.5 327.3,240.9 327.5,240.7 327.7,235.6 327.8,249.0 328.0,246.3 328.2,236.6 328.4,237.7 328.5,241.9 328.7,243.5 328.9,245.5 329.1,239.3 329.2,229.5 329.4,247.3 329.6,226.7 329.7,232.1 329.9,242.5 330.1,232.6 330.3,250.6 330.4,252.7 330.6,249.2 330.8,242.1 331.0,241.5 331.1,243.0 331.3,238.1 331.5,255.9 331.7,234.9 331.8,250.2 332.0,244.2 332.2,242.2 332.4,248.1 332.5,249.8 332.7,246.9 332.9,239.0 333.0,234.2 333.2,234.4 333.4,246.8 333.6,245.2 333.7,246.2 333.9,235.3 334.1,255.1 334.3,229.0 334.4,242.7 334.6,218.3 334.8,236.2 335.0,230.6 335.1,236.1 335.3,230.5 335.5,237.8 335.7,229.1 335.8,228.9 336.0,239.7 336.2,227.4 336.3,237.6 336.5,238.2 336.7,246.2 336.9,241.2 337.0,232.7 337.2,249.4 337.4,233.7 337.6,236.1 337.7,236.7 337.9,256.5 338.1,239.7 338.3,233.7 338.4,245.0 338.6,238.2 338.8,242.9 339.0,233.5 339.1,244.2 339.3,231.9 339.5,253.6 339.6,233.4 339.8,240.8 340.0,232.4 340.2,246.3 340.3,243.8 340.5,248.1 340.7,245.5 340.9,244.5 341.0,241.1 341.2,247.0 341.4,229.4 341.6,225.1 341.7,244.5 341.9,252.7 342.1,229.5 342.3,230.0 342.4,232.3 342.6,229.7 342.8,245.8 342.9,240.2 343.1,249.9 343.3,250.2 343.5,231.1 343.6,244.2 343.8,234.3 344.0,238.3 344.2,244.0 344.3,232.5 344.5,224.5 344.7,235.0 344.9,248.6 345.0,235.9 345.2,227.9 345.4,242.8 345.6,245.1 345.7,230.8 345.9,237.8 346.1,247.7 346.2,241.9 346.4,244.9 346.6,236.5 346.8,238.0 346.9,229.7 347.1,233.2 347.3,251.4 347.5,235.6 347.6,231.7 347.8,235.2 348.0,230.7 348.2,243.3 348.3,246.5 348.5,231.5 348.7,247.4 348.9,256.1 349.0,230.7 349.2,244.7 349.4,241.3 349.5,250.0 349.7,249.5 349.9,248.1 350.1,241.8 350.2,235.9 350.4,218.3 350.6,232.9 350.8,248.3 350.9,247.4 351.1,233.5 351.3,239.5 351.5,251.1 351.6,224.2 351.8,245.7 352.0,236.9 352.2,237.3 352.3,227.6 352.5,242.5 352.7,230.8 352.8,244.8 353.0,229.9 353.2,245.0 353.4,241.8 353.5,223.8 353.7,236.4 353.9,238.0 354.1,222.0 354.2,236.0 354.4,245.4 354.6,233.0 354.8,248.3 354.9,229.9 355.1,229.3 355.3,243.5 355.5,243.9 355.6,237.5 355.8,238.8 356.0,246.7 356.1,234.3 356.3,255.2 356.5,242.3 356.7,242.1 356.8,241.1 357.0,236.4 357.2,248.7 357.4,234.2 357.5,240.3 357.7,244.1 357.9,249.8 358.1,248.3 358.2,236.0 358.4,246.6 358.6,238.4 358.8,230.4 358.9,230.6 359.1,226.4 359.3,241.2 359.4,247.5 359.6,230.7 359.8,236.4 360.0,229.9 360.1,238.8 360.3,229.3 360.5,232.1 360.7,233.2 360.8,234.9 361.0,235.7 361.2,237.0 361.4,237.1 361.5,231.0 361.7,243.0 361.9,225.0 362.0,239.7 362.2,231.0 362.4,239.6 362.6,240.8 362.7,222.7 362.9,218.3 363.1,249.1 363.3,244.6 363.4,241.4 363.6,221.7 363.8,237.2 364.0,231.4 364.1,246.9 364.3,236.1 364.5,233.5 364.7,224.5 364.8,244.4 365.0,234.1 365.2,236.5 365.3,247.0 365.5,239.0 365.7,241.0 365.9,228.6 366.0,234.1 366.2,234.6 366.4,242.4 366.6,249.6 366.7,227.1 366.9,236.8 367.1,230.8 367.3,227.6 367.4,243.0 367.6,232.4 367.8,240.8 368.0,239.4 368.1,239.6 368.3,238.9 368.5,230.0 368.6,237.9 368.8,240.1 369.0,241.1 369.2,236.2 369.3,246.0 369.5,242.9 369.7,239.3 369.9,243.4 370.0,239.8 370.2,243.8 370.4,222.9 370.6,228.3 370.7,235.3 370.9,239.3 371.1,236.9 371.3,236.3 371.4,239.6 371.6,236.5 371.8,236.4 371.9,227.6 372.1,239.0 372.3,222.1 372.5,245.9 372.6,233.3 372.8,246.9 373.0,224.4 373.2,241.5 373.3,239.3 373.5,231.5 373.7,228.9 373.9,247.8 374.0,241.6 374.2,250.0 374.4,237.8 374.6,239.7 374.7,241.7 374.9,244.3 375.1,242.0 375.2,244.8 375.4,234.7 375.6,226.8 375.8,254.3 375.9,239.8 376.1,242.2 376.3,235.0 376.5,246.5 376.6,240.0 376.8,247.2 377.0,233.3 377.2,238.1 377.3,240.2 377.5,235.9 377.7,240.8 377.9,251.3 378.0,234.1 378.2,236.6 378.4,240.1 378.5,231.0 378.7,229.2 378.9,247.6 379.1,245.1 379.2,226.5 379.4,227.6 379.6,244.8 379.8,248.3 379.9,244.0 380.1,242.9 380.3,251.5 380.5,238.6 380.6,249.1 380.8,248.5 381.0,231.6 381.2,244.3 381.3,239.5 381.5,233.9 381.7,232.4 381.8,241.6 382.0,238.5 382.2,245.5 382.4,224.9 382.5,233.7 382.7,247.7 382.9,238.8 383.1,233.2 383.2,235.1 383.4,224.3 383.6,227.9 383.8,243.2 383.9,239.6 384.1,249.1 384.3,236.9 384.5,237.7 384.6,240.6 384.8,238.1 385.0,255.6 385.1,244.2 385.3,202.3 385.5,248.9 385.7,245.8 385.8,241.8 386.0,236.2 386.2,240.2 386.4,246.0 386.5,232.6 386.7,243.2 386.9,242.9 387.1,249.9 387.2,245.2 387.4,233.7 387.6,251.8 387.8,239.4 387.9,218.3 388.1,241.9 388.3,237.0 388.4,247.8 388.6,228.4 388.8,230.1 389.0,237.0 389.1,252.9 389.3,247.2 389.5,231.1 389.7,225.2 389.8,236.5 390.0,228.9 390.2,243.7 390.4,240.4 390.5,238.9 390.7,235.5 390.9,251.1 391.1,231.4 391.2,228.3 391.4,218.3 391.6,249.7 391.7,236.1 391.9,244.1 392.1,235.8 392.3,232.4 392.4,237.6 392.6,242.7 392.8,222.0 393.0,237.8 393.1,244.9 393.3,238.1 393.5,247.2 393.7,245.0 393.8,235.8 394.0,243.3 394.2,242.5 394.4,225.6 394.5,232.0 394.7,232.5 394.9,234.7 395.0,235.0 395.2,227.3 395.4,239.0 395.6,224.1 395.7,246.5 395.9,240.9 396.1,249.9 396.3,241.6 396.4,234.7 396.6,227.3 396.8,244.2 397.0,238.8 397.1,241.7 397.3,244.8 397.5,248.4 397.7,238.4 397.8,252.7 398.0,238.0 398.2,238.7 398.3,244.1 398.5,246.9 398.7,249.9 398.9,223.9 399.0,249.6 399.2,226.4 399.4,234.1 399.6,241.8 399.7,248.1 399.9,230.6 400.1,225.1 400.3,246.3 400.4,211.6 400.6,230.5 400.8,236.2 401.0,222.9 401.1,243.4 401.3,234.6 401.5,248.9 401.6,222.2 401.8,244.7 402.0,256.5 402.2,239.9 402.3,240.0 402.5,223.6 402.7,241.6 402.9,239.0 403.0,234.1 403.2,226.2 403.4,239.4 403.6,230.6 403.7,234.7 403.9,241.2 404.1,238.3 404.3,238.7 404.4,246.2 404.6,229.2 404.8,249.9 404.9,229.5 405.1,231.3 405.3,239.6 405.5,245.0 405.6,240.7 405.8,235.1 406.0,233.0 406.2,236.6 406.3,231.0 406.5,243.3 406.7,237.0 406.9,251.4 407.0,232.8 407.2,237.7 407.4,242.2 407.6,229.6 407.7,233.4 407.9,239.1 408.1,238.6 408.2,250.5 408.4,230.4 408.6,227.2 408.8,243.0 408.9,238.3 409.1,240.9 409.3,236.1 409.5,233.7 409.6,228.6 409.8,246.8 410.0,226.3 410.2,246.3 410.3,236.7 410.5,229.6 410.7,233.2 410.9,246.4 411.0,244.5 411.2,242.6 411.4,239.3 411.5,229.7 411.7,249.2 411.9,235.2 412.1,234.0 412.2,234.4 412.4,235.2 412.6,226.8 412.8,235.0 412.9,232.0 413.1,234.4 413.3,224.6 413.5,254.0 413.6,228.6 413.8,241.0 414.0,241.1 414.2,203.6 414.3,253.8 414.5,241.9 414.7,244.4 414.8,234.9 415.0,250.6 415.2,227.5 415.4,236.7 415.5,240.9 415.7,244.5 415.9,245.2 416.1,247.9 416.2,243.2 416.4,238.8 416.6,240.3 416.8,250.2 416.9,241.0 417.1,246.0 417.3,237.6 417.5,224.0 417.6,233.9 417.8,241.4 418.0,251.8 418.1,250.2 418.3,252.3 418.5,233.1 418.7,245.0 418.8,238.4 419.0,243.8 419.2,238.2 419.4,227.7 419.5,244.3 419.7,241.6 419.9,245.3 420.1,231.9 420.2,247.1 420.4,247.9 420.6,250.0 420.8,250.1 420.9,210.3 421.1,231.3 421.3,246.8 421.4,231.3 421.6,236.9 421.8,247.7 422.0,241.1 422.1,240.7 422.3,244.4 422.5,223.5 422.7,254.1 422.8,235.8 423.0,236.2 423.2,243.5 423.4,237.7 423.5,231.9 423.7,237.7 423.9,235.5 424.1,233.4 424.2,255.1 424.4,227.1 424.6,245.6 424.7,231.1 424.9,230.8 425.1,250.1 425.3,239.8 425.4,245.4 425.6,243.6 425.8,231.2 426.0,245.3 426.1,239.9 426.3,254.1 426.5,240.1 426.7,238.2 426.8,244.5 427.0,244.6 427.2,223.8 427.4,248.5 427.5,247.3 427.7,245.3 427.9,218.3 428.0,222.1 428.2,236.2 428.4,244.6 428.6,242.3 428.7,230.4 428.9,246.2 429.1,227.3 429.3,227.6 429.4,238.3 429.6,233.7 429.8,232.9 430.0,226.5 430.1,247.3 430.3,229.5 430.5,241.9 430.7,245.0 430.8,238.1 431.0,240.6 431.2,246.8 431.3,251.6 431.5,246.4 431.7,227.3 431.9,223.2 432.0,233.7 432.2,229.4 432.4,243.0 432.6,239.5 432.7,236.6 432.9,247.5 433.1,246.8 433.3,238.1 433.4,241.4 433.6,247.4 433.8,235.8 433.9,241.0 434.1,230.7 434.3,238.9 434.5,241.3 434.6,237.9 434.8,240.3 435.0,244.2 435.2,242.1 435.3,232.9 435.5,233.7 435.7,228.6 435.9,252.4 436.0,242.0 436.2,242.2 436.4,237.5 436.6,242.5 436.7,243.0 436.9,232.6 437.1,237.5 437.2,248.2 437.4,228.2 437.6,230.9 437.8,243.5 437.9,232.2 438.1,244.7 438.3,229.9 438.5,240.6 438.6,245.3 438.8,241.9 439.0,245.0 439.2,237.3 439.3,237.5 439.5,238.6 439.7,243.3 439.9,244.4 440.0,238.1 440.2,254.0 440.4,236.9 440.5,229.9 440.7,236.7 440.9,242.0 441.1,240.3 441.2,239.9 441.4,243.3 441.6,243.5 441.8,246.3 441.9,229.4 442.1,239.0 442.3,231.2 442.5,240.9 442.6,238.3 442.8,240.2 443.0,235.2 443.2,232.3 443.3,237.0 443.5,244.3 443.7,245.1 443.8,225.6 444.0,241.1 444.2,241.2 444.4,227.2 444.5,230.2 444.7,217.5 444.9,242.1 445.1,228.0 445.2,235.7 445.4,234.5 445.6,240.2 445.8,250.2 445.9,249.5 446.1,235.6 446.3,235.8 446.5,240.8 446.6,248.2 446.8,250.4 447.0,241.5 447.1,250.5 447.3,231.7 447.5,229.7 447.7,236.4 447.8,231.9 448.0,243.6 448.2,245.8 448.4,240.7 448.5,243.6 448.7,240.3 448.9,231.2 449.1,234.0 449.2,234.2 449.4,237.2 449.6,233.6 449.8,227.3 449.9,247.4 450.1,242.5 450.3,250.0 450.4,226.0 450.6,228.5 450.8,232.9 451.0,248.4 451.1,237.5 451.3,240.8 451.5,238.2 451.7,218.3 451.8,234.7 452.0,242.0 452.2,232.1 452.4,237.0 452.5,241.2 452.7,239.8 452.9,242.4 453.1,232.4 453.2,241.0 453.4,236.5 453.6,242.0 453.7,250.7 453.9,231.6 454.1,247.3 454.3,233.5 454.4,235.5 454.6,252.1 454.8,246.4 455.0,243.0 455.1,245.4 455.3,248.3 455.5,233.0 455.7,240.8 455.8,235.8 456.0,242.3 456.2,236.4 456.4,244.9 456.5,239.1 456.7,234.2 456.9,238.5 457.0,242.5 457.2,247.6 457.4,237.5 457.6,236.1 457.7,240.9 457.9,245.0 458.1,234.6 458.3,229.4 458.4,241.3 458.6,236.2 458.8,235.9 459.0,242.0 459.1,237.9 459.3,244.5 459.5,227.8 459.7,240.9 459.8,245.1 460.0,240.6 460.2,237.6 460.3,243.3 460.5,239.3 460.7,249.7 460.9,240.7 461.0,232.7 461.2,223.2 461.4,233.2 461.6,236.7 461.7,229.4 461.9,230.7 462.1,225.6 462.3,230.2 462.4,239.8 462.6,236.8 462.8,237.5 463.0,236.5 463.1,237.3 463.3,245.1 463.5,255.7 463.6,244.2 463.8,255.0 464.0,238.3 464.2,238.8 464.3,252.3 464.5,233.4 464.7,232.0 464.9,238.1 465.0,225.6 465.2,223.9 465.4,210.3 465.6,230.6 465.7,235.4 465.9,235.5 466.1,231.4 466.3,244.6 466.4,243.6 466.6,245.5 466.8,244.9 466.9,239.7 467.1,250.5 467.3,247.2 467.5,234.3 467.6,239.4 467.8,235.8 468.0,254.0 468.2,245.1 468.3,243.3 468.5,238.6 468.7,243.6 468.9,231.4 469.0,239.3 469.2,238.7 469.4,238.8 469.6,233.2 469.7,242.6 469.9,229.9 470.1,235.2 470.2,237.7 470.4,238.5 470.6,234.7 470.8,230.8 470.9,231.3 471.1,235.9 471.3,231.9 471.5,237.9 471.6,228.9 471.8,239.1 472.0,255.4 472.2,228.2 472.3,238.0 472.5,248.2 472.7,240.5 472.9,245.9 473.0,222.1 473.2,234.9 473.4,251.4 473.5,234.5 473.7,242.1 473.9,223.6 474.1,247.3 474.2,241.1 474.4,238.4 474.6,241.7 474.8,242.2 474.9,256.0 475.1,235.5 475.3,225.5 475.5,254.1 475.6,229.5 475.8,243.4 476.0,242.6 476.2,235.4 476.3,240.4 476.5,230.1 476.7,234.7 476.8,243.6 477.0,233.2 477.2,243.0 477.4,253.2 477.5,222.7 477.7,241.7 477.9,243.7 478.1,236.2 478.2,251.3 478.4,249.7 478.6,242.9 478.8,243.0 478.9,238.3 479.1,229.9 479.3,242.7 479.5,234.9 479.6,234.1 479.8,247.5 480.0,237.1 480.1,246.4 480.3,230.4 480.5,235.2 480.7,238.7 480.8,249.6 481.0,238.0 481.2,245.0 481.4,233.2 481.5,239.8 481.7,245.4 481.9,231.5 482.1,233.1 482.2,243.6 482.4,229.6 482.6,241.3 482.8,241.3 482.9,237.9 483.1,244.9 483.3,242.4 483.4,240.2 483.6,226.7 483.8,226.9 484.0,240.9 484.1,226.0 484.3,239.2 484.5,235.8 484.7,231.8 484.8,236.5 485.0,254.5 485.2,236.9 485.4,248.4 485.5,228.5 485.7,210.3 485.9,241.3 486.1,232.0 486.2,230.9 486.4,232.3 486.6,232.5 486.7,231.1 486.9,225.4 487.1,239.2 487.3,231.4 487.4,244.8 487.6,241.7 487.8,230.4 488.0,235.8 488.1,249.5 488.3,236.0 488.5,240.3 488.7,245.4 488.8,235.4 489.0,242.1 489.2,251.4 489.4,247.7 489.5,224.8 489.7,251.0 489.9,237.1 490.0,234.0 490.2,233.8 490.4,248.7 490.6,241.4 490.7,237.8 490.9,232.5 491.1,244.0 491.3,248.2 491.4,209.9 491.6,230.1 491.8,235.9 492.0,243.7 492.1,235.6 492.3,238.0 492.5,232.2 492.7,248.8 492.8,238.0 493.0,240.1 493.2,247.7 493.3,237.2 493.5,238.6 493.7,242.2 493.9,235.7 494.0,250.2 494.2,239.3 494.4,235.4 494.6,236.6 494.7,230.3 494.9,248.5 495.1,250.9 495.3,237.0 495.4,235.2 495.6,222.0 495.8,234.0 496.0,245.9 496.1,232.4 496.3,245.6 496.5,250.7 496.6,248.5 496.8,236.3 497.0,233.2 497.2,234.4 497.3,224.4 497.5,236.6 497.7,229.2 497.9,247.1 498.0,250.0 498.2,227.5 498.4,227.1 498.6,234.8 498.7,237.1 498.9,237.6 499.1,244.4 499.3,226.6 499.4,233.6 499.6,234.8 499.8,235.9 499.9,230.5 500.1,234.9 500.3,232.9 500.5,248.2 500.6,234.8 500.8,243.4 501.0,243.0 501.2,239.9 501.3,231.8 501.5,231.2 501.7,233.9 501.9,251.8 502.0,234.9 502.2,248.3 502.4,245.5 502.6,234.5 502.7,241.2 502.9,232.4 503.1,244.8 503.2,232.7 503.4,233.1 503.6,246.0 503.8,244.0 503.9,247.4 504.1,243.1 504.3,247.6 504.5,244.1 504.6,240.5 504.8,246.9 505.0,250.2 505.2,249.7 505.3,235.3 505.5,238.4 505.7,230.7 505.8,230.5 506.0,241.6 506.2,233.5 506.4,250.4 506.5,233.1 506.7,229.3 506.9,240.6 507.1,248.2 507.2,235.8 507.4,253.8 507.6,245.1 507.8,232.9 507.9,238.3 508.1,242.8 508.3,231.3 508.5,247.2 508.6,236.6 508.8,242.9 509.0,245.6 509.1,235.2 509.3,246.8 509.5,223.7 509.7,210.3 509.8,223.0 510.0,247.6 510.2,234.0 510.4,248.5 510.5,249.6 510.7,237.6 510.9,233.5 511.1,249.0 511.2,229.4 511.4,245.2 511.6,237.8 511.8,235.8 511.9,234.1 512.1,253.2 512.3,226.0 512.4,234.4 512.6,242.3 512.8,247.1 513.0,252.4 513.1,249.7 513.3,234.5 513.5,241.6 513.7,247.9 513.8,243.1 514.0,226.4 514.2,241.5 514.4,243.5 514.5,228.1 514.7,235.2 514.9,238.5 515.1,243.7 515.2,251.3 515.4,248.2 515.6,242.7 515.7,240.6 515.9,236.0 516.1,234.5 516.3,237.1 516.4,237.1 516.6,246.9 516.8,256.1 517.0,243.0 517.1,246.5 517.3,244.1 517.5,241.1 517.7,248.8 517.8,247.7 518.0,239.7 518.2,238.0 518.4,244.1 518.5,234.9 518.7,240.6 518.9,247.0 519.0,238.6 519.2,223.9 519.4,244.3 519.6,229.6 519.7,227.9 519.9,226.9 520.1,245.4 520.3,222.8 520.4,238.0 520.6,240.9 520.8,240.7 521.0,234.1 521.1,238.5 521.3,240.3 521.5,228.6 521.7,244.6 521.8,247.2 522.0,232.6 522.2,233.3 522.3,230.2 522.5,247.4 522.7,230.3 522.9,235.0 523.0,224.8 523.2,248.8 523.4,237.1 523.6,241.1 523.7,251.6 523.9,244.6 524.1,229.9 524.3,242.6 524.4,244.6 524.6,232.0 524.8,231.0 525.0,231.0 525.1,245.2 525.3,239.3 525.5,230.7 525.6,244.1 525.8,244.9 526.0,232.3 526.2,226.4 526.3,248.1 526.5,239.4 526.7,250.5 526.9,247.0 527.0,240.0 527.2,234.0 527.4,240.0 527.6,244.5 527.7,218.3 527.9,246.6 528.1,239.3 528.3,244.0 528.4,238.8 528.6,232.4 528.8,245.5 528.9,246.8 529.1,242.4 529.3,252.0 529.5,244.7 529.6,244.8 529.8,231.8 530.0,242.3 530.2,245.2 530.3,249.6 530.5,248.3 530.7,239.4 530.9,240.6 531.0,229.8 531.2,243.9 531.4,230.4 531.6,236.8 531.7,238.9 531.9,254.9 532.1,249.2 532.2,233.0 532.4,227.7 532.6,237.2 532.8,232.8 532.9,242.1 533.1,241.8 533.3,244.2 533.5,231.1 533.6,236.1 533.8,240.7 534.0,241.5 534.2,234.4 534.3,236.3 534.5,245.5 534.7,225.2 534.9,236.8 535.0,238.8 535.2,227.1 535.4,230.7 535.5,239.6 535.7,234.6 535.9,247.4 536.1,244.0 536.2,252.3 536.4,229.1 536.6,254.0 536.8,233.4 536.9,245.5 537.1,246.7 537.3,240.4 537.5,236.8 537.6,234.0 537.8,224.7 538.0,236.0 538.2,231.8 538.3,243.7 538.5,233.2" fill="none" stroke="#4458f5" stroke-width="0.45"/>
<line x1="38.5" y1="201.5" x2="538.5" y2="201.5" stroke="#ff0000" stroke-width="1.4"/>
<g stroke="#000" stroke-width="1"><line x1="163.5" y1="264.5" x2="163.5" y2="259.5"/><line x1="163.5" y1="12.5" x2="163.5" y2="17.5"/><line x1="288.5" y1="264.5" x2="288.5" y2="259.5"/><line x1="288.5" y1="12.5" x2="288.5" y2="17.5"/><line x1="413.5" y1="264.5" x2="413.5" y2="259.5"/><line x1="413.5" y1="12.5" x2="413.5" y2="17.5"/><line x1="38.5" y1="222.5" x2="43.5" y2="222.5"/><line x1="538.5" y1="222.5" x2="533.5" y2="222.5"/><line x1="38.5" y1="180.5" x2="43.5" y2="180.5"/><line x1="538.5" y1="180.5" x2="533.5" y2="180.5"/><line x1="38.5" y1="138.5" x2="43.5" y2="138.5"/><line x1="538.5" y1="138.5" x2="533.5" y2="138.5"/><line x1="38.5" y1="96.5" x2="43.5" y2="96.5"/><line x1="538.5" y1="96.5" x2="533.5" y2="96.5"/><line x1="38.5" y1="54.5" x2="43.5" y2="54.5"/><line x1="538.5" y1="54.5" x2="533.5" y2="54.5"/></g>
<rect x="38.5" y="12.5" width="500.0" height="252.0" fill="none" stroke="#000" stroke-width="1"/>
<g><text class="d" x="25.6" y="267.2" textLength="7.0" lengthAdjust="spacingAndGlyphs">0</text><text class="d" x="19.2" y="225.2" textLength="13.4" lengthAdjust="spacingAndGlyphs">10</text><text class="d" x="19.2" y="183.2" textLength="13.4" lengthAdjust="spacingAndGlyphs">20</text><text class="d" x="19.2" y="141.2" textLength="13.4" lengthAdjust="spacingAndGlyphs">30</text><text class="d" x="19.2" y="99.2" textLength="13.4" lengthAdjust="spacingAndGlyphs">40</text><text class="d" x="19.2" y="57.2" textLength="13.4" lengthAdjust="spacingAndGlyphs">50</text><text class="d" x="19.2" y="15.2" textLength="13.4" lengthAdjust="spacingAndGlyphs">60</text><text class="d" x="35.0" y="279.8" textLength="7.0" lengthAdjust="spacingAndGlyphs">0</text><text class="d" x="160.0" y="279.8" textLength="7.0" lengthAdjust="spacingAndGlyphs">6</text><text class="d" x="281.8" y="279.8" textLength="13.4" lengthAdjust="spacingAndGlyphs">12</text><text class="d" x="406.8" y="279.8" textLength="13.4" lengthAdjust="spacingAndGlyphs">18</text><text class="d" x="531.8" y="279.8" textLength="13.4" lengthAdjust="spacingAndGlyphs">24</text></g>
<text x="270" y="296.2" textLength="42" lengthAdjust="spacingAndGlyphs">Time(h)</text>
<text transform="translate(15.3,167.4) rotate(-90)" x="0" y="0" textLength="65.5" lengthAdjust="spacingAndGlyphs">Power(MW)</text>
<text x="95.3" y="72" textLength="141" lengthAdjust="spacingAndGlyphs">1min fluctuation standard</text>
<line x1="167.2" y1="76.3" x2="216.5" y2="190.5" stroke="#000" stroke-width="1.2"/>
<path d="M219.5,197.6 L212.6,187.8 L216.4,189.6 L218.4,185.8 Z" fill="#000"/>
<rect x="393.5" y="24.5" width="137.3" height="39" fill="#fff" stroke="#8c8c8c" stroke-width="1"/>
<line x1="395.8" y1="34.9" x2="429" y2="34.9" stroke="#00dc00" stroke-width="1.4" opacity="0.5"/>
<line x1="395.8" y1="53.3" x2="429" y2="53.3" stroke="#4458f5" stroke-width="1.4" opacity="0.45"/>
<text x="432.3" y="39.6" textLength="96" lengthAdjust="spacingAndGlyphs">Before smoothing</text>
<text x="432.5" y="57.7" textLength="89.5" lengthAdjust="spacingAndGlyphs">After smoothing</text>
</svg>
</body></html>
